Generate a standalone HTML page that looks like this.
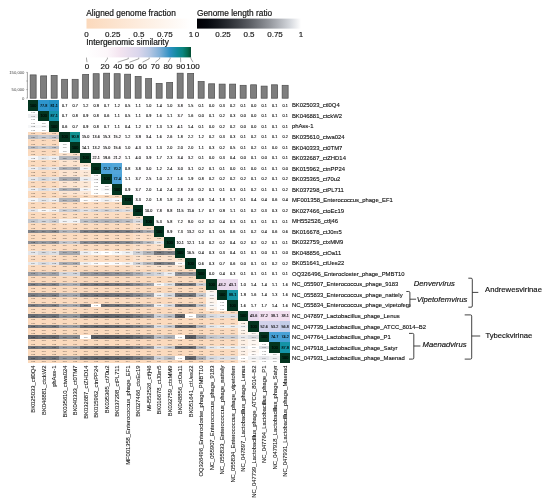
<!DOCTYPE html>
<html><head><meta charset="utf-8"><title>Intergenomic similarity heatmap</title>
<style>
html,body{margin:0;padding:0;background:#fff;width:550px;height:501px;overflow:hidden;}
svg{display:block;}
text{font-family:"Liberation Sans",Arial,sans-serif;}
</style></head><body>
<svg width="550" height="501" viewBox="0 0 550 501">
<rect x="0" y="0" width="550" height="501" fill="#fff"/>
<defs>
<linearGradient id="gAF" x1="0" x2="1" y1="0" y2="0"><stop offset="0" stop-color="#fbd9bc"/><stop offset="1" stop-color="#ffffff"/></linearGradient>
<linearGradient id="gGL" x1="0" x2="1" y1="0" y2="0"><stop offset="0.00" stop-color="#000005"/><stop offset="0.10" stop-color="#05080e"/><stop offset="0.20" stop-color="#15181e"/><stop offset="0.30" stop-color="#292c32"/><stop offset="0.40" stop-color="#404349"/><stop offset="0.50" stop-color="#595c62"/><stop offset="0.60" stop-color="#76797f"/><stop offset="0.70" stop-color="#94979d"/><stop offset="0.80" stop-color="#b5b8be"/><stop offset="0.90" stop-color="#d7dadf"/><stop offset="1.00" stop-color="#ffffff"/></linearGradient>
<linearGradient id="gIS" x1="0" x2="1" y1="0" y2="0"><stop offset="0.000" stop-color="#ffffff"/><stop offset="0.200" stop-color="#fcf6fa"/><stop offset="0.320" stop-color="#f3e4f0"/><stop offset="0.500" stop-color="#dad6ec"/><stop offset="0.600" stop-color="#b8c8e4"/><stop offset="0.700" stop-color="#80b0d8"/><stop offset="0.800" stop-color="#2c90c2"/><stop offset="0.870" stop-color="#108a9c"/><stop offset="0.920" stop-color="#0b8580"/><stop offset="0.970" stop-color="#056a4e"/><stop offset="1.000" stop-color="#024a32"/></linearGradient>
</defs>
<g fill="#111" stroke="#111" stroke-width="0.18"><text x="86.3" y="16.4" font-size="8.30">Aligned genome fraction</text><text x="197" y="16.4" font-size="8.30">Genome length ratio</text><text x="86.3" y="44.7" font-size="8.30">Intergenomic similarity</text></g>
<rect x="86.5" y="18.6" width="104.5" height="10" fill="url(#gAF)"/>
<rect x="197" y="18.6" width="104" height="10" fill="url(#gGL)"/>
<rect x="86.5" y="47" width="104.5" height="10.4" fill="url(#gIS)"/>
<g fill="#111" stroke="#111" stroke-width="0.15" font-size="8.00" text-anchor="middle"><text x="86.60" y="36.6">0</text><text x="112.70" y="36.6">0.25</text><text x="138.80" y="36.6">0.5</text><text x="164.90" y="36.6">0.75</text><text x="191.00" y="36.6">1</text><text x="197.00" y="36.6">0</text><text x="223.00" y="36.6">0.25</text><text x="249.00" y="36.6">0.5</text><text x="275.00" y="36.6">0.75</text><text x="301.00" y="36.6">1</text><text x="87.00" y="69">0</text><text x="105.00" y="69">20</text><text x="117.70" y="69">40</text><text x="129.50" y="69">50</text><text x="142.50" y="69">60</text><text x="155.30" y="69">70</text><text x="168.00" y="69">80</text><text x="180.70" y="69">90</text><text x="193.00" y="69">100</text></g>
<g stroke="#333" stroke-width="0.45" fill="none"><polyline points="86.50,57.6 86.50,58.8 87.00,62.2"/><polyline points="107.40,57.6 107.40,58.8 105.00,62.2"/><polyline points="128.30,57.6 128.30,58.8 117.70,62.2"/><polyline points="138.75,57.6 138.75,58.8 129.50,62.2"/><polyline points="149.20,57.6 149.20,58.8 142.50,62.2"/><polyline points="159.65,57.6 159.65,58.8 155.30,62.2"/><polyline points="170.10,57.6 170.10,58.8 168.00,62.2"/><polyline points="180.55,57.6 180.55,58.8 180.70,62.2"/><polyline points="191.00,57.6 191.00,58.8 193.00,62.2"/></g>
<g fill="#7e7e7e" stroke="#4c4c4c" stroke-width="0.7"><rect x="30.15" y="74.90" width="6.0" height="23.30"/><rect x="40.65" y="75.90" width="6.0" height="22.30"/><rect x="51.15" y="75.40" width="6.0" height="22.80"/><rect x="61.65" y="79.30" width="6.0" height="18.90"/><rect x="72.15" y="79.30" width="6.0" height="18.90"/><rect x="82.65" y="74.40" width="6.0" height="23.80"/><rect x="93.15" y="73.70" width="6.0" height="24.50"/><rect x="103.65" y="73.20" width="6.0" height="25.00"/><rect x="114.15" y="73.70" width="6.0" height="24.50"/><rect x="124.65" y="74.20" width="6.0" height="24.00"/><rect x="135.15" y="76.40" width="6.0" height="21.80"/><rect x="145.65" y="78.60" width="6.0" height="19.60"/><rect x="156.15" y="83.40" width="6.0" height="14.80"/><rect x="166.65" y="82.40" width="6.0" height="15.80"/><rect x="177.15" y="73.20" width="6.0" height="25.00"/><rect x="187.65" y="73.40" width="6.0" height="24.80"/><rect x="198.15" y="81.50" width="6.0" height="16.70"/><rect x="208.65" y="83.80" width="6.0" height="14.40"/><rect x="219.15" y="84.10" width="6.0" height="14.10"/><rect x="229.65" y="84.10" width="6.0" height="14.10"/><rect x="240.15" y="85.30" width="6.0" height="12.90"/><rect x="250.65" y="84.80" width="6.0" height="13.40"/><rect x="261.15" y="86.10" width="6.0" height="12.10"/><rect x="271.65" y="84.80" width="6.0" height="13.40"/><rect x="282.15" y="85.30" width="6.0" height="12.90"/></g>
<g stroke="#444" stroke-width="0.5"><line x1="27.4" y1="72.3" x2="27.4" y2="98.2"/><line x1="26.4" y1="72.40" x2="27.4" y2="72.40"/><line x1="26.4" y1="81.00" x2="27.4" y2="81.00"/><line x1="26.4" y1="89.60" x2="27.4" y2="89.60"/><line x1="26.4" y1="98.10" x2="27.4" y2="98.10"/></g>
<g fill="#444" font-size="4.2" text-anchor="end"><text x="24.4" y="73.7">150,000</text><text x="24.4" y="90.5">50,000</text><text x="24.4" y="100.0">0</text></g>
<g shape-rendering="crispEdges"><rect x="27.90" y="100.10" width="10.55" height="10.58" fill="#03341f"/><rect x="38.40" y="100.10" width="10.55" height="10.58" fill="#2e95cd"/><rect x="48.90" y="100.10" width="10.55" height="10.58" fill="#2290c5"/><rect x="59.40" y="100.10" width="10.55" height="10.58" fill="#ffffff"/><rect x="69.90" y="100.10" width="10.55" height="10.58" fill="#ffffff"/><rect x="80.40" y="100.10" width="10.55" height="10.58" fill="#ffffff"/><rect x="90.90" y="100.10" width="10.55" height="10.58" fill="#ffffff"/><rect x="101.40" y="100.10" width="10.55" height="10.58" fill="#ffffff"/><rect x="111.90" y="100.10" width="10.55" height="10.58" fill="#ffffff"/><rect x="122.40" y="100.10" width="10.55" height="10.58" fill="#ffffff"/><rect x="132.90" y="100.10" width="10.55" height="10.58" fill="#ffffff"/><rect x="143.40" y="100.10" width="10.55" height="10.58" fill="#ffffff"/><rect x="153.90" y="100.10" width="10.55" height="10.58" fill="#ffffff"/><rect x="164.40" y="100.10" width="10.55" height="10.58" fill="#ffffff"/><rect x="174.90" y="100.10" width="10.55" height="10.58" fill="#fffeff"/><rect x="185.40" y="100.10" width="10.55" height="10.58" fill="#ffffff"/><rect x="195.90" y="100.10" width="10.55" height="10.58" fill="#ffffff"/><rect x="206.40" y="100.10" width="10.55" height="10.58" fill="#ffffff"/><rect x="216.90" y="100.10" width="10.55" height="10.58" fill="#ffffff"/><rect x="227.40" y="100.10" width="10.55" height="10.58" fill="#ffffff"/><rect x="237.90" y="100.10" width="10.55" height="10.58" fill="#ffffff"/><rect x="248.40" y="100.10" width="10.55" height="10.58" fill="#ffffff"/><rect x="258.90" y="100.10" width="10.55" height="10.58" fill="#ffffff"/><rect x="269.40" y="100.10" width="10.55" height="10.58" fill="#ffffff"/><rect x="279.90" y="100.10" width="10.55" height="10.58" fill="#ffffff"/><rect x="27.90" y="110.63" width="10.55" height="3.56" fill="#ffffff"/><rect x="27.90" y="114.14" width="10.55" height="3.56" fill="#eeeff1"/><rect x="27.90" y="117.65" width="10.55" height="3.56" fill="#ffffff"/><rect x="38.40" y="110.63" width="10.55" height="10.58" fill="#03341f"/><rect x="48.90" y="110.63" width="10.55" height="10.58" fill="#1692aa"/><rect x="59.40" y="110.63" width="10.55" height="10.58" fill="#ffffff"/><rect x="69.90" y="110.63" width="10.55" height="10.58" fill="#ffffff"/><rect x="80.40" y="110.63" width="10.55" height="10.58" fill="#ffffff"/><rect x="90.90" y="110.63" width="10.55" height="10.58" fill="#ffffff"/><rect x="101.40" y="110.63" width="10.55" height="10.58" fill="#ffffff"/><rect x="111.90" y="110.63" width="10.55" height="10.58" fill="#ffffff"/><rect x="122.40" y="110.63" width="10.55" height="10.58" fill="#ffffff"/><rect x="132.90" y="110.63" width="10.55" height="10.58" fill="#ffffff"/><rect x="143.40" y="110.63" width="10.55" height="10.58" fill="#ffffff"/><rect x="153.90" y="110.63" width="10.55" height="10.58" fill="#ffffff"/><rect x="164.40" y="110.63" width="10.55" height="10.58" fill="#ffffff"/><rect x="174.90" y="110.63" width="10.55" height="10.58" fill="#fffeff"/><rect x="185.40" y="110.63" width="10.55" height="10.58" fill="#ffffff"/><rect x="195.90" y="110.63" width="10.55" height="10.58" fill="#ffffff"/><rect x="206.40" y="110.63" width="10.55" height="10.58" fill="#ffffff"/><rect x="216.90" y="110.63" width="10.55" height="10.58" fill="#ffffff"/><rect x="227.40" y="110.63" width="10.55" height="10.58" fill="#ffffff"/><rect x="237.90" y="110.63" width="10.55" height="10.58" fill="#ffffff"/><rect x="248.40" y="110.63" width="10.55" height="10.58" fill="#ffffff"/><rect x="258.90" y="110.63" width="10.55" height="10.58" fill="#ffffff"/><rect x="269.40" y="110.63" width="10.55" height="10.58" fill="#ffffff"/><rect x="279.90" y="110.63" width="10.55" height="10.58" fill="#ffffff"/><rect x="27.90" y="121.16" width="10.55" height="3.56" fill="#ffffff"/><rect x="27.90" y="124.67" width="10.55" height="3.56" fill="#f6f7f8"/><rect x="27.90" y="128.18" width="10.55" height="3.56" fill="#ffffff"/><rect x="38.40" y="121.16" width="10.55" height="3.56" fill="#ffffff"/><rect x="38.40" y="124.67" width="10.55" height="3.56" fill="#f6f7f8"/><rect x="38.40" y="128.18" width="10.55" height="3.56" fill="#ffffff"/><rect x="48.90" y="121.16" width="10.55" height="10.58" fill="#03341f"/><rect x="59.40" y="121.16" width="10.55" height="10.58" fill="#ffffff"/><rect x="69.90" y="121.16" width="10.55" height="10.58" fill="#ffffff"/><rect x="80.40" y="121.16" width="10.55" height="10.58" fill="#ffffff"/><rect x="90.90" y="121.16" width="10.55" height="10.58" fill="#ffffff"/><rect x="101.40" y="121.16" width="10.55" height="10.58" fill="#ffffff"/><rect x="111.90" y="121.16" width="10.55" height="10.58" fill="#ffffff"/><rect x="122.40" y="121.16" width="10.55" height="10.58" fill="#ffffff"/><rect x="132.90" y="121.16" width="10.55" height="10.58" fill="#ffffff"/><rect x="143.40" y="121.16" width="10.55" height="10.58" fill="#ffffff"/><rect x="153.90" y="121.16" width="10.55" height="10.58" fill="#ffffff"/><rect x="164.40" y="121.16" width="10.55" height="10.58" fill="#ffffff"/><rect x="174.90" y="121.16" width="10.55" height="10.58" fill="#fffeff"/><rect x="185.40" y="121.16" width="10.55" height="10.58" fill="#ffffff"/><rect x="195.90" y="121.16" width="10.55" height="10.58" fill="#ffffff"/><rect x="206.40" y="121.16" width="10.55" height="10.58" fill="#ffffff"/><rect x="216.90" y="121.16" width="10.55" height="10.58" fill="#ffffff"/><rect x="227.40" y="121.16" width="10.55" height="10.58" fill="#ffffff"/><rect x="237.90" y="121.16" width="10.55" height="10.58" fill="#ffffff"/><rect x="248.40" y="121.16" width="10.55" height="10.58" fill="#ffffff"/><rect x="258.90" y="121.16" width="10.55" height="10.58" fill="#ffffff"/><rect x="269.40" y="121.16" width="10.55" height="10.58" fill="#ffffff"/><rect x="279.90" y="121.16" width="10.55" height="10.58" fill="#ffffff"/><rect x="27.90" y="131.69" width="10.55" height="3.56" fill="#fbdabe"/><rect x="27.90" y="135.20" width="10.55" height="3.56" fill="#b9bcc2"/><rect x="27.90" y="138.71" width="10.55" height="3.56" fill="#fbdabe"/><rect x="38.40" y="131.69" width="10.55" height="3.56" fill="#fbdabe"/><rect x="38.40" y="135.20" width="10.55" height="3.56" fill="#c5c8ce"/><rect x="38.40" y="138.71" width="10.55" height="3.56" fill="#fbdabe"/><rect x="48.90" y="131.69" width="10.55" height="3.56" fill="#fbdabe"/><rect x="48.90" y="135.20" width="10.55" height="3.56" fill="#bfc2c8"/><rect x="48.90" y="138.71" width="10.55" height="3.56" fill="#fbdabe"/><rect x="59.40" y="131.69" width="10.55" height="10.58" fill="#03341f"/><rect x="69.90" y="131.69" width="10.55" height="10.58" fill="#109190"/><rect x="80.40" y="131.69" width="10.55" height="10.58" fill="#fefcfe"/><rect x="90.90" y="131.69" width="10.55" height="10.58" fill="#fefcfe"/><rect x="101.40" y="131.69" width="10.55" height="10.58" fill="#fefcfd"/><rect x="111.90" y="131.69" width="10.55" height="10.58" fill="#fefcfd"/><rect x="122.40" y="131.69" width="10.55" height="10.58" fill="#ffffff"/><rect x="132.90" y="131.69" width="10.55" height="10.58" fill="#fffeff"/><rect x="143.40" y="131.69" width="10.55" height="10.58" fill="#fffeff"/><rect x="153.90" y="131.69" width="10.55" height="10.58" fill="#ffffff"/><rect x="164.40" y="131.69" width="10.55" height="10.58" fill="#fffeff"/><rect x="174.90" y="131.69" width="10.55" height="10.58" fill="#ffffff"/><rect x="185.40" y="131.69" width="10.55" height="10.58" fill="#ffffff"/><rect x="195.90" y="131.69" width="10.55" height="10.58" fill="#ffffff"/><rect x="206.40" y="131.69" width="10.55" height="10.58" fill="#ffffff"/><rect x="216.90" y="131.69" width="10.55" height="10.58" fill="#ffffff"/><rect x="227.40" y="131.69" width="10.55" height="10.58" fill="#ffffff"/><rect x="237.90" y="131.69" width="10.55" height="10.58" fill="#ffffff"/><rect x="248.40" y="131.69" width="10.55" height="10.58" fill="#ffffff"/><rect x="258.90" y="131.69" width="10.55" height="10.58" fill="#ffffff"/><rect x="269.40" y="131.69" width="10.55" height="10.58" fill="#ffffff"/><rect x="279.90" y="131.69" width="10.55" height="10.58" fill="#ffffff"/><rect x="27.90" y="142.22" width="10.55" height="3.56" fill="#fbdabe"/><rect x="27.90" y="145.73" width="10.55" height="3.56" fill="#b9bcc2"/><rect x="27.90" y="149.24" width="10.55" height="3.56" fill="#fbdabe"/><rect x="38.40" y="142.22" width="10.55" height="3.56" fill="#fbdbbf"/><rect x="38.40" y="145.73" width="10.55" height="3.56" fill="#c5c8ce"/><rect x="38.40" y="149.24" width="10.55" height="3.56" fill="#fbdabf"/><rect x="48.90" y="142.22" width="10.55" height="3.56" fill="#fbdabe"/><rect x="48.90" y="145.73" width="10.55" height="3.56" fill="#bfc2c8"/><rect x="48.90" y="149.24" width="10.55" height="3.56" fill="#fbdabe"/><rect x="59.40" y="142.22" width="10.55" height="3.56" fill="#ffffff"/><rect x="59.40" y="145.73" width="10.55" height="3.56" fill="#ffffff"/><rect x="59.40" y="149.24" width="10.55" height="3.56" fill="#ffffff"/><rect x="69.90" y="142.22" width="10.55" height="10.58" fill="#03341f"/><rect x="80.40" y="142.22" width="10.55" height="10.58" fill="#fefcfe"/><rect x="90.90" y="142.22" width="10.55" height="10.58" fill="#fefcfe"/><rect x="101.40" y="142.22" width="10.55" height="10.58" fill="#fefcfe"/><rect x="111.90" y="142.22" width="10.55" height="10.58" fill="#fefcfd"/><rect x="122.40" y="142.22" width="10.55" height="10.58" fill="#ffffff"/><rect x="132.90" y="142.22" width="10.55" height="10.58" fill="#fffeff"/><rect x="143.40" y="142.22" width="10.55" height="10.58" fill="#fffeff"/><rect x="153.90" y="142.22" width="10.55" height="10.58" fill="#ffffff"/><rect x="164.40" y="142.22" width="10.55" height="10.58" fill="#ffffff"/><rect x="174.90" y="142.22" width="10.55" height="10.58" fill="#ffffff"/><rect x="185.40" y="142.22" width="10.55" height="10.58" fill="#ffffff"/><rect x="195.90" y="142.22" width="10.55" height="10.58" fill="#ffffff"/><rect x="206.40" y="142.22" width="10.55" height="10.58" fill="#ffffff"/><rect x="216.90" y="142.22" width="10.55" height="10.58" fill="#ffffff"/><rect x="227.40" y="142.22" width="10.55" height="10.58" fill="#ffffff"/><rect x="237.90" y="142.22" width="10.55" height="10.58" fill="#ffffff"/><rect x="248.40" y="142.22" width="10.55" height="10.58" fill="#ffffff"/><rect x="258.90" y="142.22" width="10.55" height="10.58" fill="#ffffff"/><rect x="269.40" y="142.22" width="10.55" height="10.58" fill="#ffffff"/><rect x="279.90" y="142.22" width="10.55" height="10.58" fill="#ffffff"/><rect x="27.90" y="152.75" width="10.55" height="3.56" fill="#fbdbbf"/><rect x="27.90" y="156.26" width="10.55" height="3.56" fill="#f7f7f8"/><rect x="27.90" y="159.77" width="10.55" height="3.56" fill="#fbdbbf"/><rect x="38.40" y="152.75" width="10.55" height="3.56" fill="#fbdbbf"/><rect x="38.40" y="156.26" width="10.55" height="3.56" fill="#e6e8eb"/><rect x="38.40" y="159.77" width="10.55" height="3.56" fill="#fbdbbf"/><rect x="48.90" y="152.75" width="10.55" height="3.56" fill="#fbdbbf"/><rect x="48.90" y="156.26" width="10.55" height="3.56" fill="#eeeff2"/><rect x="48.90" y="159.77" width="10.55" height="3.56" fill="#fbdbbf"/><rect x="59.40" y="152.75" width="10.55" height="3.56" fill="#fce4d0"/><rect x="59.40" y="156.26" width="10.55" height="3.56" fill="#b3b6bc"/><rect x="59.40" y="159.77" width="10.55" height="3.56" fill="#fce5d1"/><rect x="69.90" y="152.75" width="10.55" height="3.56" fill="#fce4cf"/><rect x="69.90" y="156.26" width="10.55" height="3.56" fill="#b3b6bc"/><rect x="69.90" y="159.77" width="10.55" height="3.56" fill="#fce5d0"/><rect x="80.40" y="152.75" width="10.55" height="10.58" fill="#03341f"/><rect x="90.90" y="152.75" width="10.55" height="10.58" fill="#fdf8fb"/><rect x="101.40" y="152.75" width="10.55" height="10.58" fill="#fefbfd"/><rect x="111.90" y="152.75" width="10.55" height="10.58" fill="#fdf9fc"/><rect x="122.40" y="152.75" width="10.55" height="10.58" fill="#ffffff"/><rect x="132.90" y="152.75" width="10.55" height="10.58" fill="#fffeff"/><rect x="143.40" y="152.75" width="10.55" height="10.58" fill="#fffeff"/><rect x="153.90" y="152.75" width="10.55" height="10.58" fill="#ffffff"/><rect x="164.40" y="152.75" width="10.55" height="10.58" fill="#ffffff"/><rect x="174.90" y="152.75" width="10.55" height="10.58" fill="#fffeff"/><rect x="185.40" y="152.75" width="10.55" height="10.58" fill="#fffeff"/><rect x="195.90" y="152.75" width="10.55" height="10.58" fill="#ffffff"/><rect x="206.40" y="152.75" width="10.55" height="10.58" fill="#ffffff"/><rect x="216.90" y="152.75" width="10.55" height="10.58" fill="#ffffff"/><rect x="227.40" y="152.75" width="10.55" height="10.58" fill="#ffffff"/><rect x="237.90" y="152.75" width="10.55" height="10.58" fill="#ffffff"/><rect x="248.40" y="152.75" width="10.55" height="10.58" fill="#ffffff"/><rect x="258.90" y="152.75" width="10.55" height="10.58" fill="#ffffff"/><rect x="269.40" y="152.75" width="10.55" height="10.58" fill="#ffffff"/><rect x="279.90" y="152.75" width="10.55" height="10.58" fill="#ffffff"/><rect x="27.90" y="163.28" width="10.55" height="3.56" fill="#fbdbbf"/><rect x="27.90" y="166.79" width="10.55" height="3.56" fill="#ecedf0"/><rect x="27.90" y="170.30" width="10.55" height="3.56" fill="#fbdbbf"/><rect x="38.40" y="163.28" width="10.55" height="3.56" fill="#fbdabf"/><rect x="38.40" y="166.79" width="10.55" height="3.56" fill="#dcdee3"/><rect x="38.40" y="170.30" width="10.55" height="3.56" fill="#fbdbbf"/><rect x="48.90" y="163.28" width="10.55" height="3.56" fill="#fbdabf"/><rect x="48.90" y="166.79" width="10.55" height="3.56" fill="#e4e5e9"/><rect x="48.90" y="170.30" width="10.55" height="3.56" fill="#fbdbbf"/><rect x="59.40" y="163.28" width="10.55" height="3.56" fill="#fce3ce"/><rect x="59.40" y="166.79" width="10.55" height="3.56" fill="#acafb5"/><rect x="59.40" y="170.30" width="10.55" height="3.56" fill="#fce4d0"/><rect x="69.90" y="163.28" width="10.55" height="3.56" fill="#fce3ce"/><rect x="69.90" y="166.79" width="10.55" height="3.56" fill="#acafb5"/><rect x="69.90" y="170.30" width="10.55" height="3.56" fill="#fce4cf"/><rect x="80.40" y="163.28" width="10.55" height="3.56" fill="#fde8d7"/><rect x="80.40" y="166.79" width="10.55" height="3.56" fill="#f4f4f6"/><rect x="80.40" y="170.30" width="10.55" height="3.56" fill="#fde9d9"/><rect x="90.90" y="163.28" width="10.55" height="10.58" fill="#03341f"/><rect x="101.40" y="163.28" width="10.55" height="10.58" fill="#4da3d8"/><rect x="111.90" y="163.28" width="10.55" height="10.58" fill="#52a6d9"/><rect x="122.40" y="163.28" width="10.55" height="10.58" fill="#ffffff"/><rect x="132.90" y="163.28" width="10.55" height="10.58" fill="#fffeff"/><rect x="143.40" y="163.28" width="10.55" height="10.58" fill="#fffeff"/><rect x="153.90" y="163.28" width="10.55" height="10.58" fill="#ffffff"/><rect x="164.40" y="163.28" width="10.55" height="10.58" fill="#ffffff"/><rect x="174.90" y="163.28" width="10.55" height="10.58" fill="#fffeff"/><rect x="185.40" y="163.28" width="10.55" height="10.58" fill="#fffeff"/><rect x="195.90" y="163.28" width="10.55" height="10.58" fill="#ffffff"/><rect x="206.40" y="163.28" width="10.55" height="10.58" fill="#ffffff"/><rect x="216.90" y="163.28" width="10.55" height="10.58" fill="#ffffff"/><rect x="227.40" y="163.28" width="10.55" height="10.58" fill="#ffffff"/><rect x="237.90" y="163.28" width="10.55" height="10.58" fill="#ffffff"/><rect x="248.40" y="163.28" width="10.55" height="10.58" fill="#ffffff"/><rect x="258.90" y="163.28" width="10.55" height="10.58" fill="#ffffff"/><rect x="269.40" y="163.28" width="10.55" height="10.58" fill="#ffffff"/><rect x="279.90" y="163.28" width="10.55" height="10.58" fill="#ffffff"/><rect x="27.90" y="173.81" width="10.55" height="3.56" fill="#fbdabe"/><rect x="27.90" y="177.32" width="10.55" height="3.56" fill="#e4e6ea"/><rect x="27.90" y="180.83" width="10.55" height="3.56" fill="#fbdabe"/><rect x="38.40" y="173.81" width="10.55" height="3.56" fill="#fbdabe"/><rect x="38.40" y="177.32" width="10.55" height="3.56" fill="#d5d8dd"/><rect x="38.40" y="180.83" width="10.55" height="3.56" fill="#fbdabe"/><rect x="48.90" y="173.81" width="10.55" height="3.56" fill="#fbdabe"/><rect x="48.90" y="177.32" width="10.55" height="3.56" fill="#dcdfe3"/><rect x="48.90" y="180.83" width="10.55" height="3.56" fill="#fbdabe"/><rect x="59.40" y="173.81" width="10.55" height="3.56" fill="#fce4d0"/><rect x="59.40" y="177.32" width="10.55" height="3.56" fill="#a7aab0"/><rect x="59.40" y="180.83" width="10.55" height="3.56" fill="#fce5d2"/><rect x="69.90" y="173.81" width="10.55" height="3.56" fill="#fce4d0"/><rect x="69.90" y="177.32" width="10.55" height="3.56" fill="#a7aab0"/><rect x="69.90" y="180.83" width="10.55" height="3.56" fill="#fce5d1"/><rect x="80.40" y="173.81" width="10.55" height="3.56" fill="#fce7d4"/><rect x="80.40" y="177.32" width="10.55" height="3.56" fill="#ecedf0"/><rect x="80.40" y="180.83" width="10.55" height="3.56" fill="#fde8d6"/><rect x="90.90" y="173.81" width="10.55" height="3.56" fill="#ffffff"/><rect x="90.90" y="177.32" width="10.55" height="3.56" fill="#f7f8f9"/><rect x="90.90" y="180.83" width="10.55" height="3.56" fill="#ffffff"/><rect x="101.40" y="173.81" width="10.55" height="10.58" fill="#03341f"/><rect x="111.90" y="173.81" width="10.55" height="10.58" fill="#4ca3d8"/><rect x="122.40" y="173.81" width="10.55" height="10.58" fill="#ffffff"/><rect x="132.90" y="173.81" width="10.55" height="10.58" fill="#fffeff"/><rect x="143.40" y="173.81" width="10.55" height="10.58" fill="#fffeff"/><rect x="153.90" y="173.81" width="10.55" height="10.58" fill="#ffffff"/><rect x="164.40" y="173.81" width="10.55" height="10.58" fill="#fffeff"/><rect x="174.90" y="173.81" width="10.55" height="10.58" fill="#ffffff"/><rect x="185.40" y="173.81" width="10.55" height="10.58" fill="#ffffff"/><rect x="195.90" y="173.81" width="10.55" height="10.58" fill="#ffffff"/><rect x="206.40" y="173.81" width="10.55" height="10.58" fill="#ffffff"/><rect x="216.90" y="173.81" width="10.55" height="10.58" fill="#ffffff"/><rect x="227.40" y="173.81" width="10.55" height="10.58" fill="#ffffff"/><rect x="237.90" y="173.81" width="10.55" height="10.58" fill="#ffffff"/><rect x="248.40" y="173.81" width="10.55" height="10.58" fill="#ffffff"/><rect x="258.90" y="173.81" width="10.55" height="10.58" fill="#ffffff"/><rect x="269.40" y="173.81" width="10.55" height="10.58" fill="#ffffff"/><rect x="279.90" y="173.81" width="10.55" height="10.58" fill="#ffffff"/><rect x="27.90" y="184.34" width="10.55" height="3.56" fill="#fbdbbf"/><rect x="27.90" y="187.85" width="10.55" height="3.56" fill="#ecedf0"/><rect x="27.90" y="191.36" width="10.55" height="3.56" fill="#fbdbbf"/><rect x="38.40" y="184.34" width="10.55" height="3.56" fill="#fbdbbf"/><rect x="38.40" y="187.85" width="10.55" height="3.56" fill="#dcdee3"/><rect x="38.40" y="191.36" width="10.55" height="3.56" fill="#fbdbbf"/><rect x="48.90" y="184.34" width="10.55" height="3.56" fill="#fbdbbf"/><rect x="48.90" y="187.85" width="10.55" height="3.56" fill="#e4e5e9"/><rect x="48.90" y="191.36" width="10.55" height="3.56" fill="#fbdbbf"/><rect x="59.40" y="184.34" width="10.55" height="3.56" fill="#fce4d0"/><rect x="59.40" y="187.85" width="10.55" height="3.56" fill="#acafb5"/><rect x="59.40" y="191.36" width="10.55" height="3.56" fill="#fce5d2"/><rect x="69.90" y="184.34" width="10.55" height="3.56" fill="#fce5d0"/><rect x="69.90" y="187.85" width="10.55" height="3.56" fill="#acafb5"/><rect x="69.90" y="191.36" width="10.55" height="3.56" fill="#fce5d2"/><rect x="80.40" y="184.34" width="10.55" height="3.56" fill="#fde8d6"/><rect x="80.40" y="187.85" width="10.55" height="3.56" fill="#f4f4f6"/><rect x="80.40" y="191.36" width="10.55" height="3.56" fill="#fde9d8"/><rect x="90.90" y="184.34" width="10.55" height="3.56" fill="#fffffe"/><rect x="90.90" y="187.85" width="10.55" height="3.56" fill="#ffffff"/><rect x="90.90" y="191.36" width="10.55" height="3.56" fill="#fffffe"/><rect x="101.40" y="184.34" width="10.55" height="3.56" fill="#ffffff"/><rect x="101.40" y="187.85" width="10.55" height="3.56" fill="#f7f8f9"/><rect x="101.40" y="191.36" width="10.55" height="3.56" fill="#ffffff"/><rect x="111.90" y="184.34" width="10.55" height="10.58" fill="#03341f"/><rect x="122.40" y="184.34" width="10.55" height="10.58" fill="#ffffff"/><rect x="132.90" y="184.34" width="10.55" height="10.58" fill="#fffeff"/><rect x="143.40" y="184.34" width="10.55" height="10.58" fill="#ffffff"/><rect x="153.90" y="184.34" width="10.55" height="10.58" fill="#ffffff"/><rect x="164.40" y="184.34" width="10.55" height="10.58" fill="#ffffff"/><rect x="174.90" y="184.34" width="10.55" height="10.58" fill="#fffeff"/><rect x="185.40" y="184.34" width="10.55" height="10.58" fill="#fffeff"/><rect x="195.90" y="184.34" width="10.55" height="10.58" fill="#ffffff"/><rect x="206.40" y="184.34" width="10.55" height="10.58" fill="#ffffff"/><rect x="216.90" y="184.34" width="10.55" height="10.58" fill="#ffffff"/><rect x="227.40" y="184.34" width="10.55" height="10.58" fill="#ffffff"/><rect x="237.90" y="184.34" width="10.55" height="10.58" fill="#ffffff"/><rect x="248.40" y="184.34" width="10.55" height="10.58" fill="#ffffff"/><rect x="258.90" y="184.34" width="10.55" height="10.58" fill="#ffffff"/><rect x="269.40" y="184.34" width="10.55" height="10.58" fill="#ffffff"/><rect x="279.90" y="184.34" width="10.55" height="10.58" fill="#ffffff"/><rect x="27.90" y="194.87" width="10.55" height="3.56" fill="#fbdabe"/><rect x="27.90" y="198.38" width="10.55" height="3.56" fill="#f3f4f6"/><rect x="27.90" y="201.89" width="10.55" height="3.56" fill="#fbdabe"/><rect x="38.40" y="194.87" width="10.55" height="3.56" fill="#fbdabe"/><rect x="38.40" y="198.38" width="10.55" height="3.56" fill="#e3e5e9"/><rect x="38.40" y="201.89" width="10.55" height="3.56" fill="#fbdabe"/><rect x="48.90" y="194.87" width="10.55" height="3.56" fill="#fbdabe"/><rect x="48.90" y="198.38" width="10.55" height="3.56" fill="#ebecef"/><rect x="48.90" y="201.89" width="10.55" height="3.56" fill="#fbdabe"/><rect x="59.40" y="194.87" width="10.55" height="3.56" fill="#fbdbbf"/><rect x="59.40" y="198.38" width="10.55" height="3.56" fill="#b1b4ba"/><rect x="59.40" y="201.89" width="10.55" height="3.56" fill="#fbdbbf"/><rect x="69.90" y="194.87" width="10.55" height="3.56" fill="#fbdbbf"/><rect x="69.90" y="198.38" width="10.55" height="3.56" fill="#b1b4ba"/><rect x="69.90" y="201.89" width="10.55" height="3.56" fill="#fbdbbf"/><rect x="80.40" y="194.87" width="10.55" height="3.56" fill="#fbdbbf"/><rect x="80.40" y="198.38" width="10.55" height="3.56" fill="#fcfcfc"/><rect x="80.40" y="201.89" width="10.55" height="3.56" fill="#fbdbbf"/><rect x="90.90" y="194.87" width="10.55" height="3.56" fill="#fbdbbf"/><rect x="90.90" y="198.38" width="10.55" height="3.56" fill="#f7f7f9"/><rect x="90.90" y="201.89" width="10.55" height="3.56" fill="#fbdabf"/><rect x="101.40" y="194.87" width="10.55" height="3.56" fill="#fbdbbf"/><rect x="101.40" y="198.38" width="10.55" height="3.56" fill="#eff0f2"/><rect x="101.40" y="201.89" width="10.55" height="3.56" fill="#fbdbbf"/><rect x="111.90" y="194.87" width="10.55" height="3.56" fill="#fbdbbf"/><rect x="111.90" y="198.38" width="10.55" height="3.56" fill="#f7f7f9"/><rect x="111.90" y="201.89" width="10.55" height="3.56" fill="#fbdbbf"/><rect x="122.40" y="194.87" width="10.55" height="10.58" fill="#03341f"/><rect x="132.90" y="194.87" width="10.55" height="10.58" fill="#fffeff"/><rect x="143.40" y="194.87" width="10.55" height="10.58" fill="#ffffff"/><rect x="153.90" y="194.87" width="10.55" height="10.58" fill="#ffffff"/><rect x="164.40" y="194.87" width="10.55" height="10.58" fill="#ffffff"/><rect x="174.90" y="194.87" width="10.55" height="10.58" fill="#fffeff"/><rect x="185.40" y="194.87" width="10.55" height="10.58" fill="#fffeff"/><rect x="195.90" y="194.87" width="10.55" height="10.58" fill="#ffffff"/><rect x="206.40" y="194.87" width="10.55" height="10.58" fill="#ffffff"/><rect x="216.90" y="194.87" width="10.55" height="10.58" fill="#ffffff"/><rect x="227.40" y="194.87" width="10.55" height="10.58" fill="#ffffff"/><rect x="237.90" y="194.87" width="10.55" height="10.58" fill="#ffffff"/><rect x="248.40" y="194.87" width="10.55" height="10.58" fill="#ffffff"/><rect x="258.90" y="194.87" width="10.55" height="10.58" fill="#ffffff"/><rect x="269.40" y="194.87" width="10.55" height="10.58" fill="#ffffff"/><rect x="279.90" y="194.87" width="10.55" height="10.58" fill="#ffffff"/><rect x="27.90" y="205.40" width="10.55" height="3.56" fill="#fbdbbf"/><rect x="27.90" y="208.91" width="10.55" height="3.56" fill="#e6e7eb"/><rect x="27.90" y="212.42" width="10.55" height="3.56" fill="#fbdbbf"/><rect x="38.40" y="205.40" width="10.55" height="3.56" fill="#fbdbbf"/><rect x="38.40" y="208.91" width="10.55" height="3.56" fill="#f6f7f8"/><rect x="38.40" y="212.42" width="10.55" height="3.56" fill="#fbdbbf"/><rect x="48.90" y="205.40" width="10.55" height="3.56" fill="#fbdbbf"/><rect x="48.90" y="208.91" width="10.55" height="3.56" fill="#eeeff1"/><rect x="48.90" y="212.42" width="10.55" height="3.56" fill="#fbdbbf"/><rect x="59.40" y="205.40" width="10.55" height="3.56" fill="#fbddc3"/><rect x="59.40" y="208.91" width="10.55" height="3.56" fill="#cccfd5"/><rect x="59.40" y="212.42" width="10.55" height="3.56" fill="#fbddc4"/><rect x="69.90" y="205.40" width="10.55" height="3.56" fill="#fbddc4"/><rect x="69.90" y="208.91" width="10.55" height="3.56" fill="#cccfd5"/><rect x="69.90" y="212.42" width="10.55" height="3.56" fill="#fbdec4"/><rect x="80.40" y="205.40" width="10.55" height="3.56" fill="#fbddc4"/><rect x="80.40" y="208.91" width="10.55" height="3.56" fill="#dee0e5"/><rect x="80.40" y="212.42" width="10.55" height="3.56" fill="#fbddc3"/><rect x="90.90" y="205.40" width="10.55" height="3.56" fill="#fbddc4"/><rect x="90.90" y="208.91" width="10.55" height="3.56" fill="#d4d7dd"/><rect x="90.90" y="212.42" width="10.55" height="3.56" fill="#fbddc3"/><rect x="101.40" y="205.40" width="10.55" height="3.56" fill="#fbddc3"/><rect x="101.40" y="208.91" width="10.55" height="3.56" fill="#ced1d7"/><rect x="101.40" y="212.42" width="10.55" height="3.56" fill="#fbddc3"/><rect x="111.90" y="205.40" width="10.55" height="3.56" fill="#fbddc3"/><rect x="111.90" y="208.91" width="10.55" height="3.56" fill="#d4d7dd"/><rect x="111.90" y="212.42" width="10.55" height="3.56" fill="#fbddc3"/><rect x="122.40" y="205.40" width="10.55" height="3.56" fill="#fbddc3"/><rect x="122.40" y="208.91" width="10.55" height="3.56" fill="#dbdde2"/><rect x="122.40" y="212.42" width="10.55" height="3.56" fill="#fbddc2"/><rect x="132.90" y="205.40" width="10.55" height="10.58" fill="#03341f"/><rect x="143.40" y="205.40" width="10.55" height="10.58" fill="#fefdfe"/><rect x="153.90" y="205.40" width="10.55" height="10.58" fill="#fffdfe"/><rect x="164.40" y="205.40" width="10.55" height="10.58" fill="#fffdfe"/><rect x="174.90" y="205.40" width="10.55" height="10.58" fill="#fefdfe"/><rect x="185.40" y="205.40" width="10.55" height="10.58" fill="#fefdfe"/><rect x="195.90" y="205.40" width="10.55" height="10.58" fill="#ffffff"/><rect x="206.40" y="205.40" width="10.55" height="10.58" fill="#ffffff"/><rect x="216.90" y="205.40" width="10.55" height="10.58" fill="#ffffff"/><rect x="227.40" y="205.40" width="10.55" height="10.58" fill="#ffffff"/><rect x="237.90" y="205.40" width="10.55" height="10.58" fill="#ffffff"/><rect x="248.40" y="205.40" width="10.55" height="10.58" fill="#ffffff"/><rect x="258.90" y="205.40" width="10.55" height="10.58" fill="#ffffff"/><rect x="269.40" y="205.40" width="10.55" height="10.58" fill="#ffffff"/><rect x="279.90" y="205.40" width="10.55" height="10.58" fill="#ffffff"/><rect x="27.90" y="215.93" width="10.55" height="3.56" fill="#fbdbbf"/><rect x="27.90" y="219.44" width="10.55" height="3.56" fill="#c3c6cc"/><rect x="27.90" y="222.95" width="10.55" height="3.56" fill="#fbdbbf"/><rect x="38.40" y="215.93" width="10.55" height="3.56" fill="#fbdbbf"/><rect x="38.40" y="219.44" width="10.55" height="3.56" fill="#d0d3d9"/><rect x="38.40" y="222.95" width="10.55" height="3.56" fill="#fbdbbf"/><rect x="48.90" y="215.93" width="10.55" height="3.56" fill="#fbdabe"/><rect x="48.90" y="219.44" width="10.55" height="3.56" fill="#c9ccd2"/><rect x="48.90" y="222.95" width="10.55" height="3.56" fill="#fbdabe"/><rect x="59.40" y="215.93" width="10.55" height="3.56" fill="#fbddc2"/><rect x="59.40" y="219.44" width="10.55" height="3.56" fill="#f1f2f4"/><rect x="59.40" y="222.95" width="10.55" height="3.56" fill="#fbddc3"/><rect x="69.90" y="215.93" width="10.55" height="3.56" fill="#fbddc2"/><rect x="69.90" y="219.44" width="10.55" height="3.56" fill="#f1f2f4"/><rect x="69.90" y="222.95" width="10.55" height="3.56" fill="#fbddc3"/><rect x="80.40" y="215.93" width="10.55" height="3.56" fill="#fbddc4"/><rect x="80.40" y="219.44" width="10.55" height="3.56" fill="#bdc0c6"/><rect x="80.40" y="222.95" width="10.55" height="3.56" fill="#fbddc3"/><rect x="90.90" y="215.93" width="10.55" height="3.56" fill="#fbddc2"/><rect x="90.90" y="219.44" width="10.55" height="3.56" fill="#b5b8be"/><rect x="90.90" y="222.95" width="10.55" height="3.56" fill="#fbdcc2"/><rect x="101.40" y="215.93" width="10.55" height="3.56" fill="#fbdcc2"/><rect x="101.40" y="219.44" width="10.55" height="3.56" fill="#b0b3b9"/><rect x="101.40" y="222.95" width="10.55" height="3.56" fill="#fbdcc1"/><rect x="111.90" y="215.93" width="10.55" height="3.56" fill="#fbdcc1"/><rect x="111.90" y="219.44" width="10.55" height="3.56" fill="#b5b8be"/><rect x="111.90" y="222.95" width="10.55" height="3.56" fill="#fbdcc0"/><rect x="122.40" y="215.93" width="10.55" height="3.56" fill="#fbdcc1"/><rect x="122.40" y="219.44" width="10.55" height="3.56" fill="#bbbec4"/><rect x="122.40" y="222.95" width="10.55" height="3.56" fill="#fbdcc0"/><rect x="132.90" y="215.93" width="10.55" height="3.56" fill="#fce2cc"/><rect x="132.90" y="219.44" width="10.55" height="3.56" fill="#d7dae0"/><rect x="132.90" y="222.95" width="10.55" height="3.56" fill="#fce1ca"/><rect x="143.40" y="215.93" width="10.55" height="10.58" fill="#03341f"/><rect x="153.90" y="215.93" width="10.55" height="10.58" fill="#fffefe"/><rect x="164.40" y="215.93" width="10.55" height="10.58" fill="#fffefe"/><rect x="174.90" y="215.93" width="10.55" height="10.58" fill="#fffefe"/><rect x="185.40" y="215.93" width="10.55" height="10.58" fill="#fffdfe"/><rect x="195.90" y="215.93" width="10.55" height="10.58" fill="#ffffff"/><rect x="206.40" y="215.93" width="10.55" height="10.58" fill="#ffffff"/><rect x="216.90" y="215.93" width="10.55" height="10.58" fill="#ffffff"/><rect x="227.40" y="215.93" width="10.55" height="10.58" fill="#ffffff"/><rect x="237.90" y="215.93" width="10.55" height="10.58" fill="#ffffff"/><rect x="248.40" y="215.93" width="10.55" height="10.58" fill="#ffffff"/><rect x="258.90" y="215.93" width="10.55" height="10.58" fill="#ffffff"/><rect x="269.40" y="215.93" width="10.55" height="10.58" fill="#ffffff"/><rect x="279.90" y="215.93" width="10.55" height="10.58" fill="#ffffff"/><rect x="27.90" y="226.46" width="10.55" height="3.56" fill="#fbdbc0"/><rect x="27.90" y="229.97" width="10.55" height="3.56" fill="#81848a"/><rect x="27.90" y="233.48" width="10.55" height="3.56" fill="#fbdbc0"/><rect x="38.40" y="226.46" width="10.55" height="3.56" fill="#fbdbc0"/><rect x="38.40" y="229.97" width="10.55" height="3.56" fill="#8a8d93"/><rect x="38.40" y="233.48" width="10.55" height="3.56" fill="#fbdbc0"/><rect x="48.90" y="226.46" width="10.55" height="3.56" fill="#fbdbc0"/><rect x="48.90" y="229.97" width="10.55" height="3.56" fill="#86898f"/><rect x="48.90" y="233.48" width="10.55" height="3.56" fill="#fbdbbf"/><rect x="59.40" y="226.46" width="10.55" height="3.56" fill="#fbdbc0"/><rect x="59.40" y="229.97" width="10.55" height="3.56" fill="#b0b3b9"/><rect x="59.40" y="233.48" width="10.55" height="3.56" fill="#fbdbc0"/><rect x="69.90" y="226.46" width="10.55" height="3.56" fill="#fbdbc0"/><rect x="69.90" y="229.97" width="10.55" height="3.56" fill="#b0b3b9"/><rect x="69.90" y="233.48" width="10.55" height="3.56" fill="#fbdbbf"/><rect x="80.40" y="226.46" width="10.55" height="3.56" fill="#fbdbc0"/><rect x="80.40" y="229.97" width="10.55" height="3.56" fill="#7d8086"/><rect x="80.40" y="233.48" width="10.55" height="3.56" fill="#fbdbc0"/><rect x="90.90" y="226.46" width="10.55" height="3.56" fill="#fbdbbf"/><rect x="90.90" y="229.97" width="10.55" height="3.56" fill="#787b81"/><rect x="90.90" y="233.48" width="10.55" height="3.56" fill="#fbdbbf"/><rect x="101.40" y="226.46" width="10.55" height="3.56" fill="#fbdbbf"/><rect x="101.40" y="229.97" width="10.55" height="3.56" fill="#75787e"/><rect x="101.40" y="233.48" width="10.55" height="3.56" fill="#fbdbbf"/><rect x="111.90" y="226.46" width="10.55" height="3.56" fill="#fbdbc0"/><rect x="111.90" y="229.97" width="10.55" height="3.56" fill="#787b81"/><rect x="111.90" y="233.48" width="10.55" height="3.56" fill="#fbdbc0"/><rect x="122.40" y="226.46" width="10.55" height="3.56" fill="#fbdcc0"/><rect x="122.40" y="229.97" width="10.55" height="3.56" fill="#7c7f85"/><rect x="122.40" y="233.48" width="10.55" height="3.56" fill="#fbdbc0"/><rect x="132.90" y="226.46" width="10.55" height="3.56" fill="#fce0c9"/><rect x="132.90" y="229.97" width="10.55" height="3.56" fill="#8f9298"/><rect x="132.90" y="233.48" width="10.55" height="3.56" fill="#fce0c8"/><rect x="143.40" y="226.46" width="10.55" height="3.56" fill="#fcdec6"/><rect x="143.40" y="229.97" width="10.55" height="3.56" fill="#a7aab0"/><rect x="143.40" y="233.48" width="10.55" height="3.56" fill="#fcdec5"/><rect x="153.90" y="226.46" width="10.55" height="10.58" fill="#03341f"/><rect x="164.40" y="226.46" width="10.55" height="10.58" fill="#fffdfe"/><rect x="174.90" y="226.46" width="10.55" height="10.58" fill="#fffefe"/><rect x="185.40" y="226.46" width="10.55" height="10.58" fill="#fefcfe"/><rect x="195.90" y="226.46" width="10.55" height="10.58" fill="#ffffff"/><rect x="206.40" y="226.46" width="10.55" height="10.58" fill="#ffffff"/><rect x="216.90" y="226.46" width="10.55" height="10.58" fill="#ffffff"/><rect x="227.40" y="226.46" width="10.55" height="10.58" fill="#ffffff"/><rect x="237.90" y="226.46" width="10.55" height="10.58" fill="#ffffff"/><rect x="248.40" y="226.46" width="10.55" height="10.58" fill="#ffffff"/><rect x="258.90" y="226.46" width="10.55" height="10.58" fill="#ffffff"/><rect x="269.40" y="226.46" width="10.55" height="10.58" fill="#ffffff"/><rect x="279.90" y="226.46" width="10.55" height="10.58" fill="#ffffff"/><rect x="27.90" y="236.99" width="10.55" height="3.56" fill="#fbdbbf"/><rect x="27.90" y="240.50" width="10.55" height="3.56" fill="#8e9197"/><rect x="27.90" y="244.01" width="10.55" height="3.56" fill="#fbdbbf"/><rect x="38.40" y="236.99" width="10.55" height="3.56" fill="#fbdbbf"/><rect x="38.40" y="240.50" width="10.55" height="3.56" fill="#989ba1"/><rect x="38.40" y="244.01" width="10.55" height="3.56" fill="#fbdbbf"/><rect x="48.90" y="236.99" width="10.55" height="3.56" fill="#fbdbc0"/><rect x="48.90" y="240.50" width="10.55" height="3.56" fill="#93969c"/><rect x="48.90" y="244.01" width="10.55" height="3.56" fill="#fbdbbf"/><rect x="59.40" y="236.99" width="10.55" height="3.56" fill="#fbdcc2"/><rect x="59.40" y="240.50" width="10.55" height="3.56" fill="#c2c5cb"/><rect x="59.40" y="244.01" width="10.55" height="3.56" fill="#fbdcc1"/><rect x="69.90" y="236.99" width="10.55" height="3.56" fill="#fbdcc1"/><rect x="69.90" y="240.50" width="10.55" height="3.56" fill="#c2c5cb"/><rect x="69.90" y="244.01" width="10.55" height="3.56" fill="#fbdcc0"/><rect x="80.40" y="236.99" width="10.55" height="3.56" fill="#fbdcc1"/><rect x="80.40" y="240.50" width="10.55" height="3.56" fill="#8a8d93"/><rect x="80.40" y="244.01" width="10.55" height="3.56" fill="#fbdcc1"/><rect x="90.90" y="236.99" width="10.55" height="3.56" fill="#fbdcc1"/><rect x="90.90" y="240.50" width="10.55" height="3.56" fill="#84878d"/><rect x="90.90" y="244.01" width="10.55" height="3.56" fill="#fbdcc1"/><rect x="101.40" y="236.99" width="10.55" height="3.56" fill="#fbdcc2"/><rect x="101.40" y="240.50" width="10.55" height="3.56" fill="#808389"/><rect x="101.40" y="244.01" width="10.55" height="3.56" fill="#fbdcc2"/><rect x="111.90" y="236.99" width="10.55" height="3.56" fill="#fbdcc1"/><rect x="111.90" y="240.50" width="10.55" height="3.56" fill="#84878d"/><rect x="111.90" y="244.01" width="10.55" height="3.56" fill="#fbdcc1"/><rect x="122.40" y="236.99" width="10.55" height="3.56" fill="#fbdcc0"/><rect x="122.40" y="240.50" width="10.55" height="3.56" fill="#888b91"/><rect x="122.40" y="244.01" width="10.55" height="3.56" fill="#fbdbc0"/><rect x="132.90" y="236.99" width="10.55" height="3.56" fill="#fce1ca"/><rect x="132.90" y="240.50" width="10.55" height="3.56" fill="#9da0a6"/><rect x="132.90" y="244.01" width="10.55" height="3.56" fill="#fce0c9"/><rect x="143.40" y="236.99" width="10.55" height="3.56" fill="#fcdfc6"/><rect x="143.40" y="240.50" width="10.55" height="3.56" fill="#b8bbc1"/><rect x="143.40" y="244.01" width="10.55" height="3.56" fill="#fcdec6"/><rect x="153.90" y="236.99" width="10.55" height="3.56" fill="#fce1c9"/><rect x="153.90" y="240.50" width="10.55" height="3.56" fill="#e6e8eb"/><rect x="153.90" y="244.01" width="10.55" height="3.56" fill="#fce1ca"/><rect x="164.40" y="236.99" width="10.55" height="10.58" fill="#03341f"/><rect x="174.90" y="236.99" width="10.55" height="10.58" fill="#fefdfe"/><rect x="185.40" y="236.99" width="10.55" height="10.58" fill="#fefdfe"/><rect x="195.90" y="236.99" width="10.55" height="10.58" fill="#ffffff"/><rect x="206.40" y="236.99" width="10.55" height="10.58" fill="#ffffff"/><rect x="216.90" y="236.99" width="10.55" height="10.58" fill="#ffffff"/><rect x="227.40" y="236.99" width="10.55" height="10.58" fill="#ffffff"/><rect x="237.90" y="236.99" width="10.55" height="10.58" fill="#ffffff"/><rect x="248.40" y="236.99" width="10.55" height="10.58" fill="#ffffff"/><rect x="258.90" y="236.99" width="10.55" height="10.58" fill="#ffffff"/><rect x="269.40" y="236.99" width="10.55" height="10.58" fill="#ffffff"/><rect x="279.90" y="236.99" width="10.55" height="10.58" fill="#ffffff"/><rect x="27.90" y="247.52" width="10.55" height="3.56" fill="#fbddc3"/><rect x="27.90" y="251.03" width="10.55" height="3.56" fill="#e4e6ea"/><rect x="27.90" y="254.54" width="10.55" height="3.56" fill="#fbddc4"/><rect x="38.40" y="247.52" width="10.55" height="3.56" fill="#fbddc3"/><rect x="38.40" y="251.03" width="10.55" height="3.56" fill="#d5d8dd"/><rect x="38.40" y="254.54" width="10.55" height="3.56" fill="#fbddc3"/><rect x="48.90" y="247.52" width="10.55" height="3.56" fill="#fbddc3"/><rect x="48.90" y="251.03" width="10.55" height="3.56" fill="#dcdfe3"/><rect x="48.90" y="254.54" width="10.55" height="3.56" fill="#fbdec4"/><rect x="59.40" y="247.52" width="10.55" height="3.56" fill="#fbdbc0"/><rect x="59.40" y="251.03" width="10.55" height="3.56" fill="#a7aab0"/><rect x="59.40" y="254.54" width="10.55" height="3.56" fill="#fbdcc0"/><rect x="69.90" y="247.52" width="10.55" height="3.56" fill="#fbdcc0"/><rect x="69.90" y="251.03" width="10.55" height="3.56" fill="#a7aab0"/><rect x="69.90" y="254.54" width="10.55" height="3.56" fill="#fbdcc1"/><rect x="80.40" y="247.52" width="10.55" height="3.56" fill="#fbddc2"/><rect x="80.40" y="251.03" width="10.55" height="3.56" fill="#ecedf0"/><rect x="80.40" y="254.54" width="10.55" height="3.56" fill="#fbddc3"/><rect x="90.90" y="247.52" width="10.55" height="3.56" fill="#fbdcc2"/><rect x="90.90" y="251.03" width="10.55" height="3.56" fill="#f7f8f9"/><rect x="90.90" y="254.54" width="10.55" height="3.56" fill="#fbddc2"/><rect x="101.40" y="247.52" width="10.55" height="3.56" fill="#fbdbc0"/><rect x="101.40" y="251.03" width="10.55" height="3.56" fill="#ffffff"/><rect x="101.40" y="254.54" width="10.55" height="3.56" fill="#fbdbc0"/><rect x="111.90" y="247.52" width="10.55" height="3.56" fill="#fbdcc2"/><rect x="111.90" y="251.03" width="10.55" height="3.56" fill="#f7f8f9"/><rect x="111.90" y="254.54" width="10.55" height="3.56" fill="#fbdcc2"/><rect x="122.40" y="247.52" width="10.55" height="3.56" fill="#fbdcc1"/><rect x="122.40" y="251.03" width="10.55" height="3.56" fill="#eff0f2"/><rect x="122.40" y="254.54" width="10.55" height="3.56" fill="#fbdcc2"/><rect x="132.90" y="247.52" width="10.55" height="3.56" fill="#fce2cc"/><rect x="132.90" y="251.03" width="10.55" height="3.56" fill="#ced1d7"/><rect x="132.90" y="254.54" width="10.55" height="3.56" fill="#fce3cd"/><rect x="143.40" y="247.52" width="10.55" height="3.56" fill="#fcdfc7"/><rect x="143.40" y="251.03" width="10.55" height="3.56" fill="#b0b3b9"/><rect x="143.40" y="254.54" width="10.55" height="3.56" fill="#fce0c8"/><rect x="153.90" y="247.52" width="10.55" height="3.56" fill="#fcdfc7"/><rect x="153.90" y="251.03" width="10.55" height="3.56" fill="#75787e"/><rect x="153.90" y="254.54" width="10.55" height="3.56" fill="#fce0c8"/><rect x="164.40" y="247.52" width="10.55" height="3.56" fill="#fce1cb"/><rect x="164.40" y="251.03" width="10.55" height="3.56" fill="#808389"/><rect x="164.40" y="254.54" width="10.55" height="3.56" fill="#fce2cc"/><rect x="174.90" y="247.52" width="10.55" height="10.58" fill="#03341f"/><rect x="185.40" y="247.52" width="10.55" height="10.58" fill="#fefcfd"/><rect x="195.90" y="247.52" width="10.55" height="10.58" fill="#ffffff"/><rect x="206.40" y="247.52" width="10.55" height="10.58" fill="#ffffff"/><rect x="216.90" y="247.52" width="10.55" height="10.58" fill="#ffffff"/><rect x="227.40" y="247.52" width="10.55" height="10.58" fill="#ffffff"/><rect x="237.90" y="247.52" width="10.55" height="10.58" fill="#ffffff"/><rect x="248.40" y="247.52" width="10.55" height="10.58" fill="#ffffff"/><rect x="258.90" y="247.52" width="10.55" height="10.58" fill="#ffffff"/><rect x="269.40" y="247.52" width="10.55" height="10.58" fill="#ffffff"/><rect x="279.90" y="247.52" width="10.55" height="10.58" fill="#ffffff"/><rect x="27.90" y="258.05" width="10.55" height="3.56" fill="#fbdbc0"/><rect x="27.90" y="261.56" width="10.55" height="3.56" fill="#e7e9ec"/><rect x="27.90" y="265.07" width="10.55" height="3.56" fill="#fbdbc0"/><rect x="38.40" y="258.05" width="10.55" height="3.56" fill="#fbdbc0"/><rect x="38.40" y="261.56" width="10.55" height="3.56" fill="#d7dae0"/><rect x="38.40" y="265.07" width="10.55" height="3.56" fill="#fbdbc0"/><rect x="48.90" y="258.05" width="10.55" height="3.56" fill="#fbdbc0"/><rect x="48.90" y="261.56" width="10.55" height="3.56" fill="#dfe1e6"/><rect x="48.90" y="265.07" width="10.55" height="3.56" fill="#fbdbc0"/><rect x="59.40" y="258.05" width="10.55" height="3.56" fill="#fbdcc1"/><rect x="59.40" y="261.56" width="10.55" height="3.56" fill="#a9acb2"/><rect x="59.40" y="265.07" width="10.55" height="3.56" fill="#fbdcc1"/><rect x="69.90" y="258.05" width="10.55" height="3.56" fill="#fbdcc0"/><rect x="69.90" y="261.56" width="10.55" height="3.56" fill="#a9acb2"/><rect x="69.90" y="265.07" width="10.55" height="3.56" fill="#fbdcc1"/><rect x="80.40" y="258.05" width="10.55" height="3.56" fill="#fbddc2"/><rect x="80.40" y="261.56" width="10.55" height="3.56" fill="#eff0f2"/><rect x="80.40" y="265.07" width="10.55" height="3.56" fill="#fbddc3"/><rect x="90.90" y="258.05" width="10.55" height="3.56" fill="#fbdcc2"/><rect x="90.90" y="261.56" width="10.55" height="3.56" fill="#fafafb"/><rect x="90.90" y="265.07" width="10.55" height="3.56" fill="#fbddc3"/><rect x="101.40" y="258.05" width="10.55" height="3.56" fill="#fbdcc1"/><rect x="101.40" y="261.56" width="10.55" height="3.56" fill="#fcfcfc"/><rect x="101.40" y="265.07" width="10.55" height="3.56" fill="#fbdbc0"/><rect x="111.90" y="258.05" width="10.55" height="3.56" fill="#fbdcc2"/><rect x="111.90" y="261.56" width="10.55" height="3.56" fill="#fafafb"/><rect x="111.90" y="265.07" width="10.55" height="3.56" fill="#fbdcc2"/><rect x="122.40" y="258.05" width="10.55" height="3.56" fill="#fbdcc1"/><rect x="122.40" y="261.56" width="10.55" height="3.56" fill="#f2f3f5"/><rect x="122.40" y="265.07" width="10.55" height="3.56" fill="#fbdcc2"/><rect x="132.90" y="258.05" width="10.55" height="3.56" fill="#fce2cc"/><rect x="132.90" y="261.56" width="10.55" height="3.56" fill="#d0d3d9"/><rect x="132.90" y="265.07" width="10.55" height="3.56" fill="#fce3cd"/><rect x="143.40" y="258.05" width="10.55" height="3.56" fill="#fce0c8"/><rect x="143.40" y="261.56" width="10.55" height="3.56" fill="#b2b5bb"/><rect x="143.40" y="265.07" width="10.55" height="3.56" fill="#fce0c9"/><rect x="153.90" y="258.05" width="10.55" height="3.56" fill="#fce3ce"/><rect x="153.90" y="261.56" width="10.55" height="3.56" fill="#76797f"/><rect x="153.90" y="265.07" width="10.55" height="3.56" fill="#fce4cf"/><rect x="164.40" y="258.05" width="10.55" height="3.56" fill="#fce2cd"/><rect x="164.40" y="261.56" width="10.55" height="3.56" fill="#82858b"/><rect x="164.40" y="265.07" width="10.55" height="3.56" fill="#fce3ce"/><rect x="174.90" y="258.05" width="10.55" height="3.56" fill="#fce6d3"/><rect x="174.90" y="261.56" width="10.55" height="3.56" fill="#fcfcfc"/><rect x="174.90" y="265.07" width="10.55" height="3.56" fill="#fce5d1"/><rect x="185.40" y="258.05" width="10.55" height="10.58" fill="#03341f"/><rect x="195.90" y="258.05" width="10.55" height="10.58" fill="#ffffff"/><rect x="206.40" y="258.05" width="10.55" height="10.58" fill="#ffffff"/><rect x="216.90" y="258.05" width="10.55" height="10.58" fill="#ffffff"/><rect x="227.40" y="258.05" width="10.55" height="10.58" fill="#ffffff"/><rect x="237.90" y="258.05" width="10.55" height="10.58" fill="#ffffff"/><rect x="248.40" y="258.05" width="10.55" height="10.58" fill="#ffffff"/><rect x="258.90" y="258.05" width="10.55" height="10.58" fill="#ffffff"/><rect x="269.40" y="258.05" width="10.55" height="10.58" fill="#ffffff"/><rect x="279.90" y="258.05" width="10.55" height="10.58" fill="#ffffff"/><rect x="27.90" y="268.58" width="10.55" height="3.56" fill="#fbdabd"/><rect x="27.90" y="272.09" width="10.55" height="3.56" fill="#9a9da3"/><rect x="27.90" y="275.60" width="10.55" height="3.56" fill="#fbdabd"/><rect x="38.40" y="268.58" width="10.55" height="3.56" fill="#fbd9bd"/><rect x="38.40" y="272.09" width="10.55" height="3.56" fill="#a5a8ae"/><rect x="38.40" y="275.60" width="10.55" height="3.56" fill="#fbd9bd"/><rect x="48.90" y="268.58" width="10.55" height="3.56" fill="#fbdabd"/><rect x="48.90" y="272.09" width="10.55" height="3.56" fill="#9fa2a8"/><rect x="48.90" y="275.60" width="10.55" height="3.56" fill="#fbdabd"/><rect x="59.40" y="268.58" width="10.55" height="3.56" fill="#fbdbbf"/><rect x="59.40" y="272.09" width="10.55" height="3.56" fill="#d2d5db"/><rect x="59.40" y="275.60" width="10.55" height="3.56" fill="#fbdbbf"/><rect x="69.90" y="268.58" width="10.55" height="3.56" fill="#fbdbbf"/><rect x="69.90" y="272.09" width="10.55" height="3.56" fill="#d2d5db"/><rect x="69.90" y="275.60" width="10.55" height="3.56" fill="#fbdbbf"/><rect x="80.40" y="268.58" width="10.55" height="3.56" fill="#fbdabd"/><rect x="80.40" y="272.09" width="10.55" height="3.56" fill="#96999f"/><rect x="80.40" y="275.60" width="10.55" height="3.56" fill="#fbdabd"/><rect x="90.90" y="268.58" width="10.55" height="3.56" fill="#fbdabd"/><rect x="90.90" y="272.09" width="10.55" height="3.56" fill="#8f9298"/><rect x="90.90" y="275.60" width="10.55" height="3.56" fill="#fbdabd"/><rect x="101.40" y="268.58" width="10.55" height="3.56" fill="#fbdbbf"/><rect x="101.40" y="272.09" width="10.55" height="3.56" fill="#8b8e94"/><rect x="101.40" y="275.60" width="10.55" height="3.56" fill="#fbdabf"/><rect x="111.90" y="268.58" width="10.55" height="3.56" fill="#fbdabd"/><rect x="111.90" y="272.09" width="10.55" height="3.56" fill="#8f9298"/><rect x="111.90" y="275.60" width="10.55" height="3.56" fill="#fbdabd"/><rect x="122.40" y="268.58" width="10.55" height="3.56" fill="#fbdbbf"/><rect x="122.40" y="272.09" width="10.55" height="3.56" fill="#94979d"/><rect x="122.40" y="275.60" width="10.55" height="3.56" fill="#fbdabf"/><rect x="132.90" y="268.58" width="10.55" height="3.56" fill="#fbdbc0"/><rect x="132.90" y="272.09" width="10.55" height="3.56" fill="#aaadb3"/><rect x="132.90" y="275.60" width="10.55" height="3.56" fill="#fbdbc0"/><rect x="143.40" y="268.58" width="10.55" height="3.56" fill="#fbdabd"/><rect x="143.40" y="272.09" width="10.55" height="3.56" fill="#c7cad0"/><rect x="143.40" y="275.60" width="10.55" height="3.56" fill="#fbdabd"/><rect x="153.90" y="268.58" width="10.55" height="3.56" fill="#fbdabd"/><rect x="153.90" y="272.09" width="10.55" height="3.56" fill="#d3d6dc"/><rect x="153.90" y="275.60" width="10.55" height="3.56" fill="#fbdabd"/><rect x="164.40" y="268.58" width="10.55" height="3.56" fill="#fbdbbf"/><rect x="164.40" y="272.09" width="10.55" height="3.56" fill="#eaebee"/><rect x="164.40" y="275.60" width="10.55" height="3.56" fill="#fbdbbf"/><rect x="174.90" y="268.58" width="10.55" height="3.56" fill="#fbdabe"/><rect x="174.90" y="272.09" width="10.55" height="3.56" fill="#8b8e94"/><rect x="174.90" y="275.60" width="10.55" height="3.56" fill="#fbdabe"/><rect x="185.40" y="268.58" width="10.55" height="3.56" fill="#fbdabe"/><rect x="185.40" y="272.09" width="10.55" height="3.56" fill="#8d9096"/><rect x="185.40" y="275.60" width="10.55" height="3.56" fill="#fbdabe"/><rect x="195.90" y="268.58" width="10.55" height="10.58" fill="#03341f"/><rect x="206.40" y="268.58" width="10.55" height="10.58" fill="#ffffff"/><rect x="216.90" y="268.58" width="10.55" height="10.58" fill="#ffffff"/><rect x="227.40" y="268.58" width="10.55" height="10.58" fill="#ffffff"/><rect x="237.90" y="268.58" width="10.55" height="10.58" fill="#ffffff"/><rect x="248.40" y="268.58" width="10.55" height="10.58" fill="#ffffff"/><rect x="258.90" y="268.58" width="10.55" height="10.58" fill="#ffffff"/><rect x="269.40" y="268.58" width="10.55" height="10.58" fill="#ffffff"/><rect x="279.90" y="268.58" width="10.55" height="10.58" fill="#ffffff"/><rect x="27.90" y="279.11" width="10.55" height="3.56" fill="#fbd9bd"/><rect x="27.90" y="282.62" width="10.55" height="3.56" fill="#7c7f85"/><rect x="27.90" y="286.13" width="10.55" height="3.56" fill="#fbd9bd"/><rect x="38.40" y="279.11" width="10.55" height="3.56" fill="#fbdabd"/><rect x="38.40" y="282.62" width="10.55" height="3.56" fill="#85888e"/><rect x="38.40" y="286.13" width="10.55" height="3.56" fill="#fbdabd"/><rect x="48.90" y="279.11" width="10.55" height="3.56" fill="#fbd9bd"/><rect x="48.90" y="282.62" width="10.55" height="3.56" fill="#808389"/><rect x="48.90" y="286.13" width="10.55" height="3.56" fill="#fbd9bd"/><rect x="59.40" y="279.11" width="10.55" height="3.56" fill="#fbdabd"/><rect x="59.40" y="282.62" width="10.55" height="3.56" fill="#a9acb2"/><rect x="59.40" y="286.13" width="10.55" height="3.56" fill="#fbdabd"/><rect x="69.90" y="279.11" width="10.55" height="3.56" fill="#fbdabe"/><rect x="69.90" y="282.62" width="10.55" height="3.56" fill="#a9acb2"/><rect x="69.90" y="286.13" width="10.55" height="3.56" fill="#fbdabe"/><rect x="80.40" y="279.11" width="10.55" height="3.56" fill="#fbd9bd"/><rect x="80.40" y="282.62" width="10.55" height="3.56" fill="#797c82"/><rect x="80.40" y="286.13" width="10.55" height="3.56" fill="#fbd9bd"/><rect x="90.90" y="279.11" width="10.55" height="3.56" fill="#fbdabd"/><rect x="90.90" y="282.62" width="10.55" height="3.56" fill="#73767c"/><rect x="90.90" y="286.13" width="10.55" height="3.56" fill="#fbdabd"/><rect x="101.40" y="279.11" width="10.55" height="3.56" fill="#fbdabd"/><rect x="101.40" y="282.62" width="10.55" height="3.56" fill="#707379"/><rect x="101.40" y="286.13" width="10.55" height="3.56" fill="#fbdabd"/><rect x="111.90" y="279.11" width="10.55" height="3.56" fill="#fbdabd"/><rect x="111.90" y="282.62" width="10.55" height="3.56" fill="#73767c"/><rect x="111.90" y="286.13" width="10.55" height="3.56" fill="#fbdabd"/><rect x="122.40" y="279.11" width="10.55" height="3.56" fill="#fbdbc0"/><rect x="122.40" y="282.62" width="10.55" height="3.56" fill="#777a80"/><rect x="122.40" y="286.13" width="10.55" height="3.56" fill="#fbdbc0"/><rect x="132.90" y="279.11" width="10.55" height="3.56" fill="#fbdabe"/><rect x="132.90" y="282.62" width="10.55" height="3.56" fill="#898c92"/><rect x="132.90" y="286.13" width="10.55" height="3.56" fill="#fbdabe"/><rect x="143.40" y="279.11" width="10.55" height="3.56" fill="#fbdabd"/><rect x="143.40" y="282.62" width="10.55" height="3.56" fill="#a0a3a9"/><rect x="143.40" y="286.13" width="10.55" height="3.56" fill="#fbdabd"/><rect x="153.90" y="279.11" width="10.55" height="3.56" fill="#fbdabd"/><rect x="153.90" y="282.62" width="10.55" height="3.56" fill="#f4f5f6"/><rect x="153.90" y="286.13" width="10.55" height="3.56" fill="#fbdabd"/><rect x="164.40" y="279.11" width="10.55" height="3.56" fill="#fbdabd"/><rect x="164.40" y="282.62" width="10.55" height="3.56" fill="#dcdfe3"/><rect x="164.40" y="286.13" width="10.55" height="3.56" fill="#fbdabd"/><rect x="174.90" y="279.11" width="10.55" height="3.56" fill="#fbdabe"/><rect x="174.90" y="282.62" width="10.55" height="3.56" fill="#707379"/><rect x="174.90" y="286.13" width="10.55" height="3.56" fill="#fbdabe"/><rect x="185.40" y="279.11" width="10.55" height="3.56" fill="#fbdabe"/><rect x="185.40" y="282.62" width="10.55" height="3.56" fill="#71747a"/><rect x="185.40" y="286.13" width="10.55" height="3.56" fill="#fbdabe"/><rect x="195.90" y="279.11" width="10.55" height="3.56" fill="#fbd9bd"/><rect x="195.90" y="282.62" width="10.55" height="3.56" fill="#cbced4"/><rect x="195.90" y="286.13" width="10.55" height="3.56" fill="#fbd9bd"/><rect x="206.40" y="279.11" width="10.55" height="10.58" fill="#03341f"/><rect x="216.90" y="279.11" width="10.55" height="10.58" fill="#ead9ed"/><rect x="227.40" y="279.11" width="10.55" height="10.58" fill="#eadaed"/><rect x="237.90" y="279.11" width="10.55" height="10.58" fill="#ffffff"/><rect x="248.40" y="279.11" width="10.55" height="10.58" fill="#ffffff"/><rect x="258.90" y="279.11" width="10.55" height="10.58" fill="#ffffff"/><rect x="269.40" y="279.11" width="10.55" height="10.58" fill="#ffffff"/><rect x="279.90" y="279.11" width="10.55" height="10.58" fill="#ffffff"/><rect x="27.90" y="289.64" width="10.55" height="3.56" fill="#fbdabe"/><rect x="27.90" y="293.15" width="10.55" height="3.56" fill="#797c82"/><rect x="27.90" y="296.66" width="10.55" height="3.56" fill="#fbdabe"/><rect x="38.40" y="289.64" width="10.55" height="3.56" fill="#fbdabd"/><rect x="38.40" y="293.15" width="10.55" height="3.56" fill="#81848a"/><rect x="38.40" y="296.66" width="10.55" height="3.56" fill="#fbdabd"/><rect x="48.90" y="289.64" width="10.55" height="3.56" fill="#fbdabd"/><rect x="48.90" y="293.15" width="10.55" height="3.56" fill="#7d8086"/><rect x="48.90" y="296.66" width="10.55" height="3.56" fill="#fbdabd"/><rect x="59.40" y="289.64" width="10.55" height="3.56" fill="#fbdabe"/><rect x="59.40" y="293.15" width="10.55" height="3.56" fill="#a4a7ad"/><rect x="59.40" y="296.66" width="10.55" height="3.56" fill="#fbdabe"/><rect x="69.90" y="289.64" width="10.55" height="3.56" fill="#fbdabd"/><rect x="69.90" y="293.15" width="10.55" height="3.56" fill="#a4a7ad"/><rect x="69.90" y="296.66" width="10.55" height="3.56" fill="#fbdabd"/><rect x="80.40" y="289.64" width="10.55" height="3.56" fill="#fbdabe"/><rect x="80.40" y="293.15" width="10.55" height="3.56" fill="#75787e"/><rect x="80.40" y="296.66" width="10.55" height="3.56" fill="#fbdabe"/><rect x="90.90" y="289.64" width="10.55" height="3.56" fill="#fbdabd"/><rect x="90.90" y="293.15" width="10.55" height="3.56" fill="#707379"/><rect x="90.90" y="296.66" width="10.55" height="3.56" fill="#fbdabd"/><rect x="101.40" y="289.64" width="10.55" height="3.56" fill="#fbdabd"/><rect x="101.40" y="293.15" width="10.55" height="3.56" fill="#6d7076"/><rect x="101.40" y="296.66" width="10.55" height="3.56" fill="#fbdabd"/><rect x="111.90" y="289.64" width="10.55" height="3.56" fill="#fbdabd"/><rect x="111.90" y="293.15" width="10.55" height="3.56" fill="#707379"/><rect x="111.90" y="296.66" width="10.55" height="3.56" fill="#fbdabd"/><rect x="122.40" y="289.64" width="10.55" height="3.56" fill="#fbdcc0"/><rect x="122.40" y="293.15" width="10.55" height="3.56" fill="#73767c"/><rect x="122.40" y="296.66" width="10.55" height="3.56" fill="#fbdbc0"/><rect x="132.90" y="289.64" width="10.55" height="3.56" fill="#fbdbbf"/><rect x="132.90" y="293.15" width="10.55" height="3.56" fill="#85888e"/><rect x="132.90" y="296.66" width="10.55" height="3.56" fill="#fbdbbf"/><rect x="143.40" y="289.64" width="10.55" height="3.56" fill="#fbdabe"/><rect x="143.40" y="293.15" width="10.55" height="3.56" fill="#9c9fa5"/><rect x="143.40" y="296.66" width="10.55" height="3.56" fill="#fbdabe"/><rect x="153.90" y="289.64" width="10.55" height="3.56" fill="#fbdabe"/><rect x="153.90" y="293.15" width="10.55" height="3.56" fill="#eceef0"/><rect x="153.90" y="296.66" width="10.55" height="3.56" fill="#fbdabe"/><rect x="164.40" y="289.64" width="10.55" height="3.56" fill="#fbdabd"/><rect x="164.40" y="293.15" width="10.55" height="3.56" fill="#d5d8de"/><rect x="164.40" y="296.66" width="10.55" height="3.56" fill="#fbdabd"/><rect x="174.90" y="289.64" width="10.55" height="3.56" fill="#fbdabe"/><rect x="174.90" y="293.15" width="10.55" height="3.56" fill="#6d7076"/><rect x="174.90" y="296.66" width="10.55" height="3.56" fill="#fbdabe"/><rect x="185.40" y="289.64" width="10.55" height="3.56" fill="#fbdabe"/><rect x="185.40" y="293.15" width="10.55" height="3.56" fill="#6e7177"/><rect x="185.40" y="296.66" width="10.55" height="3.56" fill="#fbdabe"/><rect x="195.90" y="289.64" width="10.55" height="3.56" fill="#fbdabe"/><rect x="195.90" y="293.15" width="10.55" height="3.56" fill="#c4c7cd"/><rect x="195.90" y="296.66" width="10.55" height="3.56" fill="#fbdabe"/><rect x="206.40" y="289.64" width="10.55" height="3.56" fill="#fef5ed"/><rect x="206.40" y="293.15" width="10.55" height="3.56" fill="#f7f7f8"/><rect x="206.40" y="296.66" width="10.55" height="3.56" fill="#fef3e9"/><rect x="216.90" y="289.64" width="10.55" height="10.58" fill="#03341f"/><rect x="227.40" y="289.64" width="10.55" height="10.58" fill="#1494a5"/><rect x="237.90" y="289.64" width="10.55" height="10.58" fill="#ffffff"/><rect x="248.40" y="289.64" width="10.55" height="10.58" fill="#ffffff"/><rect x="258.90" y="289.64" width="10.55" height="10.58" fill="#ffffff"/><rect x="269.40" y="289.64" width="10.55" height="10.58" fill="#ffffff"/><rect x="279.90" y="289.64" width="10.55" height="10.58" fill="#ffffff"/><rect x="27.90" y="300.17" width="10.55" height="3.56" fill="#fbdabd"/><rect x="27.90" y="303.68" width="10.55" height="3.56" fill="#797c82"/><rect x="27.90" y="307.19" width="10.55" height="3.56" fill="#fbdabd"/><rect x="38.40" y="300.17" width="10.55" height="3.56" fill="#fbdabe"/><rect x="38.40" y="303.68" width="10.55" height="3.56" fill="#81848a"/><rect x="38.40" y="307.19" width="10.55" height="3.56" fill="#fbdabe"/><rect x="48.90" y="300.17" width="10.55" height="3.56" fill="#fbdabd"/><rect x="48.90" y="303.68" width="10.55" height="3.56" fill="#7d8086"/><rect x="48.90" y="307.19" width="10.55" height="3.56" fill="#fbdabd"/><rect x="59.40" y="300.17" width="10.55" height="3.56" fill="#fbdabe"/><rect x="59.40" y="303.68" width="10.55" height="3.56" fill="#a4a7ad"/><rect x="59.40" y="307.19" width="10.55" height="3.56" fill="#fbdabe"/><rect x="69.90" y="300.17" width="10.55" height="3.56" fill="#fbdabe"/><rect x="69.90" y="303.68" width="10.55" height="3.56" fill="#a4a7ad"/><rect x="69.90" y="307.19" width="10.55" height="3.56" fill="#fbdabe"/><rect x="80.40" y="300.17" width="10.55" height="3.56" fill="#fbdabe"/><rect x="80.40" y="303.68" width="10.55" height="3.56" fill="#75787e"/><rect x="80.40" y="307.19" width="10.55" height="3.56" fill="#fbdabe"/><rect x="90.90" y="300.17" width="10.55" height="3.56" fill="#fbd9bd"/><rect x="90.90" y="303.68" width="10.55" height="3.56" fill="#ffffff"/><rect x="90.90" y="307.19" width="10.55" height="3.56" fill="#fbd9bd"/><rect x="101.40" y="300.17" width="10.55" height="3.56" fill="#fbdabd"/><rect x="101.40" y="303.68" width="10.55" height="3.56" fill="#6d7076"/><rect x="101.40" y="307.19" width="10.55" height="3.56" fill="#fbdabd"/><rect x="111.90" y="300.17" width="10.55" height="3.56" fill="#fbdabe"/><rect x="111.90" y="303.68" width="10.55" height="3.56" fill="#707379"/><rect x="111.90" y="307.19" width="10.55" height="3.56" fill="#fbdabe"/><rect x="122.40" y="300.17" width="10.55" height="3.56" fill="#fbdbc0"/><rect x="122.40" y="303.68" width="10.55" height="3.56" fill="#73767c"/><rect x="122.40" y="307.19" width="10.55" height="3.56" fill="#fbdbc0"/><rect x="132.90" y="300.17" width="10.55" height="3.56" fill="#fbdbbf"/><rect x="132.90" y="303.68" width="10.55" height="3.56" fill="#85888e"/><rect x="132.90" y="307.19" width="10.55" height="3.56" fill="#fbdbbf"/><rect x="143.40" y="300.17" width="10.55" height="3.56" fill="#fbdabe"/><rect x="143.40" y="303.68" width="10.55" height="3.56" fill="#9c9fa5"/><rect x="143.40" y="307.19" width="10.55" height="3.56" fill="#fbdabe"/><rect x="153.90" y="300.17" width="10.55" height="3.56" fill="#fbdabe"/><rect x="153.90" y="303.68" width="10.55" height="3.56" fill="#eceef0"/><rect x="153.90" y="307.19" width="10.55" height="3.56" fill="#fbdabe"/><rect x="164.40" y="300.17" width="10.55" height="3.56" fill="#fbdabe"/><rect x="164.40" y="303.68" width="10.55" height="3.56" fill="#d5d8de"/><rect x="164.40" y="307.19" width="10.55" height="3.56" fill="#fbdabe"/><rect x="174.90" y="300.17" width="10.55" height="3.56" fill="#fbdabe"/><rect x="174.90" y="303.68" width="10.55" height="3.56" fill="#6d7076"/><rect x="174.90" y="307.19" width="10.55" height="3.56" fill="#fbdabe"/><rect x="185.40" y="300.17" width="10.55" height="3.56" fill="#fbdabe"/><rect x="185.40" y="303.68" width="10.55" height="3.56" fill="#6e7177"/><rect x="185.40" y="307.19" width="10.55" height="3.56" fill="#fbdabe"/><rect x="195.90" y="300.17" width="10.55" height="3.56" fill="#fbdabe"/><rect x="195.90" y="303.68" width="10.55" height="3.56" fill="#c4c7cd"/><rect x="195.90" y="307.19" width="10.55" height="3.56" fill="#fbdabe"/><rect x="206.40" y="300.17" width="10.55" height="3.56" fill="#fef5ed"/><rect x="206.40" y="303.68" width="10.55" height="3.56" fill="#f7f7f8"/><rect x="206.40" y="307.19" width="10.55" height="3.56" fill="#fef3e9"/><rect x="216.90" y="300.17" width="10.55" height="3.56" fill="#ffffff"/><rect x="216.90" y="303.68" width="10.55" height="3.56" fill="#ffffff"/><rect x="216.90" y="307.19" width="10.55" height="3.56" fill="#ffffff"/><rect x="227.40" y="300.17" width="10.55" height="10.58" fill="#03341f"/><rect x="237.90" y="300.17" width="10.55" height="10.58" fill="#ffffff"/><rect x="248.40" y="300.17" width="10.55" height="10.58" fill="#ffffff"/><rect x="258.90" y="300.17" width="10.55" height="10.58" fill="#ffffff"/><rect x="269.40" y="300.17" width="10.55" height="10.58" fill="#ffffff"/><rect x="279.90" y="300.17" width="10.55" height="10.58" fill="#ffffff"/><rect x="27.90" y="310.70" width="10.55" height="3.56" fill="#fbdabd"/><rect x="27.90" y="314.21" width="10.55" height="3.56" fill="#6a6d73"/><rect x="27.90" y="317.72" width="10.55" height="3.56" fill="#fbdabd"/><rect x="38.40" y="310.70" width="10.55" height="3.56" fill="#fbd9bd"/><rect x="38.40" y="314.21" width="10.55" height="3.56" fill="#71747a"/><rect x="38.40" y="317.72" width="10.55" height="3.56" fill="#fbd9bd"/><rect x="48.90" y="310.70" width="10.55" height="3.56" fill="#fbd9bd"/><rect x="48.90" y="314.21" width="10.55" height="3.56" fill="#6d7076"/><rect x="48.90" y="317.72" width="10.55" height="3.56" fill="#fbd9bd"/><rect x="59.40" y="310.70" width="10.55" height="3.56" fill="#fbdabd"/><rect x="59.40" y="314.21" width="10.55" height="3.56" fill="#909399"/><rect x="59.40" y="317.72" width="10.55" height="3.56" fill="#fbdabd"/><rect x="69.90" y="310.70" width="10.55" height="3.56" fill="#fbdabd"/><rect x="69.90" y="314.21" width="10.55" height="3.56" fill="#909399"/><rect x="69.90" y="317.72" width="10.55" height="3.56" fill="#fbdabd"/><rect x="80.40" y="310.70" width="10.55" height="3.56" fill="#fbd9bd"/><rect x="80.40" y="314.21" width="10.55" height="3.56" fill="#676a70"/><rect x="80.40" y="317.72" width="10.55" height="3.56" fill="#fbd9bd"/><rect x="90.90" y="310.70" width="10.55" height="3.56" fill="#fbdabd"/><rect x="90.90" y="314.21" width="10.55" height="3.56" fill="#62656b"/><rect x="90.90" y="317.72" width="10.55" height="3.56" fill="#fbdabd"/><rect x="101.40" y="310.70" width="10.55" height="3.56" fill="#fbdabd"/><rect x="101.40" y="314.21" width="10.55" height="3.56" fill="#5f6268"/><rect x="101.40" y="317.72" width="10.55" height="3.56" fill="#fbdabd"/><rect x="111.90" y="310.70" width="10.55" height="3.56" fill="#fbdabd"/><rect x="111.90" y="314.21" width="10.55" height="3.56" fill="#62656b"/><rect x="111.90" y="317.72" width="10.55" height="3.56" fill="#fbdabd"/><rect x="122.40" y="310.70" width="10.55" height="3.56" fill="#fbdabd"/><rect x="122.40" y="314.21" width="10.55" height="3.56" fill="#65686e"/><rect x="122.40" y="317.72" width="10.55" height="3.56" fill="#fbdabd"/><rect x="132.90" y="310.70" width="10.55" height="3.56" fill="#fbdabd"/><rect x="132.90" y="314.21" width="10.55" height="3.56" fill="#75787e"/><rect x="132.90" y="317.72" width="10.55" height="3.56" fill="#fbdabd"/><rect x="143.40" y="310.70" width="10.55" height="3.56" fill="#fbdabd"/><rect x="143.40" y="314.21" width="10.55" height="3.56" fill="#898c92"/><rect x="143.40" y="317.72" width="10.55" height="3.56" fill="#fbdabd"/><rect x="153.90" y="310.70" width="10.55" height="3.56" fill="#fbdabd"/><rect x="153.90" y="314.21" width="10.55" height="3.56" fill="#ced1d7"/><rect x="153.90" y="317.72" width="10.55" height="3.56" fill="#fbdabd"/><rect x="164.40" y="310.70" width="10.55" height="3.56" fill="#fbdabd"/><rect x="164.40" y="314.21" width="10.55" height="3.56" fill="#bbbec4"/><rect x="164.40" y="317.72" width="10.55" height="3.56" fill="#fbdabd"/><rect x="174.90" y="310.70" width="10.55" height="3.56" fill="#fbdabd"/><rect x="174.90" y="314.21" width="10.55" height="3.56" fill="#5f6268"/><rect x="174.90" y="317.72" width="10.55" height="3.56" fill="#fbdabd"/><rect x="185.40" y="310.70" width="10.55" height="3.56" fill="#fbd9bd"/><rect x="185.40" y="314.21" width="10.55" height="3.56" fill="#ffffff"/><rect x="185.40" y="317.72" width="10.55" height="3.56" fill="#fbd9bd"/><rect x="195.90" y="310.70" width="10.55" height="3.56" fill="#fbdabd"/><rect x="195.90" y="314.21" width="10.55" height="3.56" fill="#adb0b6"/><rect x="195.90" y="317.72" width="10.55" height="3.56" fill="#fbdabd"/><rect x="206.40" y="310.70" width="10.55" height="3.56" fill="#fbdbbf"/><rect x="206.40" y="314.21" width="10.55" height="3.56" fill="#d6d9df"/><rect x="206.40" y="317.72" width="10.55" height="3.56" fill="#fbdbbf"/><rect x="216.90" y="310.70" width="10.55" height="3.56" fill="#fbdcc1"/><rect x="216.90" y="314.21" width="10.55" height="3.56" fill="#dee0e5"/><rect x="216.90" y="317.72" width="10.55" height="3.56" fill="#fbdbc0"/><rect x="227.40" y="310.70" width="10.55" height="3.56" fill="#fbdbc0"/><rect x="227.40" y="314.21" width="10.55" height="3.56" fill="#dee0e5"/><rect x="227.40" y="317.72" width="10.55" height="3.56" fill="#fbdbc0"/><rect x="237.90" y="310.70" width="10.55" height="10.58" fill="#03341f"/><rect x="248.40" y="310.70" width="10.55" height="10.58" fill="#e9d9ed"/><rect x="258.90" y="310.70" width="10.55" height="10.58" fill="#f2e1f0"/><rect x="269.40" y="310.70" width="10.55" height="10.58" fill="#f2dfef"/><rect x="279.90" y="310.70" width="10.55" height="10.58" fill="#f2dfef"/><rect x="27.90" y="321.23" width="10.55" height="3.56" fill="#fbd9bd"/><rect x="27.90" y="324.74" width="10.55" height="3.56" fill="#707379"/><rect x="27.90" y="328.25" width="10.55" height="3.56" fill="#fbd9bd"/><rect x="38.40" y="321.23" width="10.55" height="3.56" fill="#fbd9bd"/><rect x="38.40" y="324.74" width="10.55" height="3.56" fill="#777a80"/><rect x="38.40" y="328.25" width="10.55" height="3.56" fill="#fbd9bd"/><rect x="48.90" y="321.23" width="10.55" height="3.56" fill="#fbd9bd"/><rect x="48.90" y="324.74" width="10.55" height="3.56" fill="#74777d"/><rect x="48.90" y="328.25" width="10.55" height="3.56" fill="#fbd9bd"/><rect x="59.40" y="321.23" width="10.55" height="3.56" fill="#fbdabd"/><rect x="59.40" y="324.74" width="10.55" height="3.56" fill="#989ba1"/><rect x="59.40" y="328.25" width="10.55" height="3.56" fill="#fbdabd"/><rect x="69.90" y="321.23" width="10.55" height="3.56" fill="#fbdabd"/><rect x="69.90" y="324.74" width="10.55" height="3.56" fill="#989ba1"/><rect x="69.90" y="328.25" width="10.55" height="3.56" fill="#fbdabd"/><rect x="80.40" y="321.23" width="10.55" height="3.56" fill="#fbdabd"/><rect x="80.40" y="324.74" width="10.55" height="3.56" fill="#6c6f75"/><rect x="80.40" y="328.25" width="10.55" height="3.56" fill="#fbdabd"/><rect x="90.90" y="321.23" width="10.55" height="3.56" fill="#fbd9bd"/><rect x="90.90" y="324.74" width="10.55" height="3.56" fill="#686b71"/><rect x="90.90" y="328.25" width="10.55" height="3.56" fill="#fbd9bd"/><rect x="101.40" y="321.23" width="10.55" height="3.56" fill="#fbdabd"/><rect x="101.40" y="324.74" width="10.55" height="3.56" fill="#65686e"/><rect x="101.40" y="328.25" width="10.55" height="3.56" fill="#fbdabd"/><rect x="111.90" y="321.23" width="10.55" height="3.56" fill="#fbdabd"/><rect x="111.90" y="324.74" width="10.55" height="3.56" fill="#686b71"/><rect x="111.90" y="328.25" width="10.55" height="3.56" fill="#fbdabd"/><rect x="122.40" y="321.23" width="10.55" height="3.56" fill="#fbdabe"/><rect x="122.40" y="324.74" width="10.55" height="3.56" fill="#6b6e74"/><rect x="122.40" y="328.25" width="10.55" height="3.56" fill="#fbdabe"/><rect x="132.90" y="321.23" width="10.55" height="3.56" fill="#fbdabd"/><rect x="132.90" y="324.74" width="10.55" height="3.56" fill="#7b7e84"/><rect x="132.90" y="328.25" width="10.55" height="3.56" fill="#fbdabd"/><rect x="143.40" y="321.23" width="10.55" height="3.56" fill="#fbdabd"/><rect x="143.40" y="324.74" width="10.55" height="3.56" fill="#909399"/><rect x="143.40" y="328.25" width="10.55" height="3.56" fill="#fbdabd"/><rect x="153.90" y="321.23" width="10.55" height="3.56" fill="#fbdabd"/><rect x="153.90" y="324.74" width="10.55" height="3.56" fill="#dadde2"/><rect x="153.90" y="328.25" width="10.55" height="3.56" fill="#fbdabd"/><rect x="164.40" y="321.23" width="10.55" height="3.56" fill="#fbdabd"/><rect x="164.40" y="324.74" width="10.55" height="3.56" fill="#c6c9cf"/><rect x="164.40" y="328.25" width="10.55" height="3.56" fill="#fbdabd"/><rect x="174.90" y="321.23" width="10.55" height="3.56" fill="#fbdabd"/><rect x="174.90" y="324.74" width="10.55" height="3.56" fill="#65686e"/><rect x="174.90" y="328.25" width="10.55" height="3.56" fill="#fbdabd"/><rect x="185.40" y="321.23" width="10.55" height="3.56" fill="#fbdabd"/><rect x="185.40" y="324.74" width="10.55" height="3.56" fill="#66696f"/><rect x="185.40" y="328.25" width="10.55" height="3.56" fill="#fbdabd"/><rect x="195.90" y="321.23" width="10.55" height="3.56" fill="#fbdabd"/><rect x="195.90" y="324.74" width="10.55" height="3.56" fill="#b6b9bf"/><rect x="195.90" y="328.25" width="10.55" height="3.56" fill="#fbdabd"/><rect x="206.40" y="321.23" width="10.55" height="3.56" fill="#fbdbc0"/><rect x="206.40" y="324.74" width="10.55" height="3.56" fill="#e4e6e9"/><rect x="206.40" y="328.25" width="10.55" height="3.56" fill="#fbdbc0"/><rect x="216.90" y="321.23" width="10.55" height="3.56" fill="#fbdbc0"/><rect x="216.90" y="324.74" width="10.55" height="3.56" fill="#ebedef"/><rect x="216.90" y="328.25" width="10.55" height="3.56" fill="#fbdbc0"/><rect x="227.40" y="321.23" width="10.55" height="3.56" fill="#fbdbc0"/><rect x="227.40" y="324.74" width="10.55" height="3.56" fill="#ebedef"/><rect x="227.40" y="328.25" width="10.55" height="3.56" fill="#fbdbc0"/><rect x="237.90" y="321.23" width="10.55" height="3.56" fill="#fef3ea"/><rect x="237.90" y="324.74" width="10.55" height="3.56" fill="#f0f1f3"/><rect x="237.90" y="328.25" width="10.55" height="3.56" fill="#fef5ed"/><rect x="248.40" y="321.23" width="10.55" height="10.58" fill="#03341f"/><rect x="258.90" y="321.23" width="10.55" height="10.58" fill="#d2d2eb"/><rect x="269.40" y="321.23" width="10.55" height="10.58" fill="#d0d1ea"/><rect x="279.90" y="321.23" width="10.55" height="10.58" fill="#c2cde8"/><rect x="27.90" y="331.76" width="10.55" height="3.56" fill="#fbdabd"/><rect x="27.90" y="335.27" width="10.55" height="3.56" fill="#606369"/><rect x="27.90" y="338.78" width="10.55" height="3.56" fill="#fbdabd"/><rect x="38.40" y="331.76" width="10.55" height="3.56" fill="#fbdabd"/><rect x="38.40" y="335.27" width="10.55" height="3.56" fill="#676a70"/><rect x="38.40" y="338.78" width="10.55" height="3.56" fill="#fbdabd"/><rect x="48.90" y="331.76" width="10.55" height="3.56" fill="#fbdabd"/><rect x="48.90" y="335.27" width="10.55" height="3.56" fill="#63666c"/><rect x="48.90" y="338.78" width="10.55" height="3.56" fill="#fbdabd"/><rect x="59.40" y="331.76" width="10.55" height="3.56" fill="#fbdabd"/><rect x="59.40" y="335.27" width="10.55" height="3.56" fill="#83868c"/><rect x="59.40" y="338.78" width="10.55" height="3.56" fill="#fbdabd"/><rect x="69.90" y="331.76" width="10.55" height="3.56" fill="#fbdabd"/><rect x="69.90" y="335.27" width="10.55" height="3.56" fill="#83868c"/><rect x="69.90" y="338.78" width="10.55" height="3.56" fill="#fbdabd"/><rect x="80.40" y="331.76" width="10.55" height="3.56" fill="#fbd9bd"/><rect x="80.40" y="335.27" width="10.55" height="3.56" fill="#ffffff"/><rect x="80.40" y="338.78" width="10.55" height="3.56" fill="#fbd9bd"/><rect x="90.90" y="331.76" width="10.55" height="3.56" fill="#fbdabd"/><rect x="90.90" y="335.27" width="10.55" height="3.56" fill="#595c62"/><rect x="90.90" y="338.78" width="10.55" height="3.56" fill="#fbdabd"/><rect x="101.40" y="331.76" width="10.55" height="3.56" fill="#fbdabd"/><rect x="101.40" y="335.27" width="10.55" height="3.56" fill="#575a60"/><rect x="101.40" y="338.78" width="10.55" height="3.56" fill="#fbdabd"/><rect x="111.90" y="331.76" width="10.55" height="3.56" fill="#fbdabd"/><rect x="111.90" y="335.27" width="10.55" height="3.56" fill="#595c62"/><rect x="111.90" y="338.78" width="10.55" height="3.56" fill="#fbdabd"/><rect x="122.40" y="331.76" width="10.55" height="3.56" fill="#fbdabe"/><rect x="122.40" y="335.27" width="10.55" height="3.56" fill="#5c5f65"/><rect x="122.40" y="338.78" width="10.55" height="3.56" fill="#fbdabe"/><rect x="132.90" y="331.76" width="10.55" height="3.56" fill="#fbdabe"/><rect x="132.90" y="335.27" width="10.55" height="3.56" fill="#6a6d73"/><rect x="132.90" y="338.78" width="10.55" height="3.56" fill="#fbdabe"/><rect x="143.40" y="331.76" width="10.55" height="3.56" fill="#fbdabd"/><rect x="143.40" y="335.27" width="10.55" height="3.56" fill="#7c7f85"/><rect x="143.40" y="338.78" width="10.55" height="3.56" fill="#fbdabd"/><rect x="153.90" y="331.76" width="10.55" height="3.56" fill="#fbdabe"/><rect x="153.90" y="335.27" width="10.55" height="3.56" fill="#bcbfc5"/><rect x="153.90" y="338.78" width="10.55" height="3.56" fill="#fbdabe"/><rect x="164.40" y="331.76" width="10.55" height="3.56" fill="#fbdabd"/><rect x="164.40" y="335.27" width="10.55" height="3.56" fill="#abaeb4"/><rect x="164.40" y="338.78" width="10.55" height="3.56" fill="#fbdabd"/><rect x="174.90" y="331.76" width="10.55" height="3.56" fill="#fbd9bd"/><rect x="174.90" y="335.27" width="10.55" height="3.56" fill="#ffffff"/><rect x="174.90" y="338.78" width="10.55" height="3.56" fill="#fbd9bd"/><rect x="185.40" y="331.76" width="10.55" height="3.56" fill="#fbdabd"/><rect x="185.40" y="335.27" width="10.55" height="3.56" fill="#585b61"/><rect x="185.40" y="338.78" width="10.55" height="3.56" fill="#fbdabd"/><rect x="195.90" y="331.76" width="10.55" height="3.56" fill="#fbdabd"/><rect x="195.90" y="335.27" width="10.55" height="3.56" fill="#9da0a6"/><rect x="195.90" y="338.78" width="10.55" height="3.56" fill="#fbdabd"/><rect x="206.40" y="331.76" width="10.55" height="3.56" fill="#fbdbc0"/><rect x="206.40" y="335.27" width="10.55" height="3.56" fill="#c3c6cc"/><rect x="206.40" y="338.78" width="10.55" height="3.56" fill="#fbdbc0"/><rect x="216.90" y="331.76" width="10.55" height="3.56" fill="#fbdbc0"/><rect x="216.90" y="335.27" width="10.55" height="3.56" fill="#c9ccd2"/><rect x="216.90" y="338.78" width="10.55" height="3.56" fill="#fbdbc0"/><rect x="227.40" y="331.76" width="10.55" height="3.56" fill="#fbdbc0"/><rect x="227.40" y="335.27" width="10.55" height="3.56" fill="#c9ccd2"/><rect x="227.40" y="338.78" width="10.55" height="3.56" fill="#fbdbc0"/><rect x="237.90" y="331.76" width="10.55" height="3.56" fill="#fef2e7"/><rect x="237.90" y="335.27" width="10.55" height="3.56" fill="#e7e8ec"/><rect x="237.90" y="338.78" width="10.55" height="3.56" fill="#fdf0e4"/><rect x="248.40" y="331.76" width="10.55" height="3.56" fill="#fef9f5"/><rect x="248.40" y="335.27" width="10.55" height="3.56" fill="#d9dce1"/><rect x="248.40" y="338.78" width="10.55" height="3.56" fill="#fef7f1"/><rect x="258.90" y="331.76" width="10.55" height="10.58" fill="#03341f"/><rect x="269.40" y="331.76" width="10.55" height="10.58" fill="#47a0d6"/><rect x="279.90" y="331.76" width="10.55" height="10.58" fill="#48a1d6"/><rect x="27.90" y="342.29" width="10.55" height="3.56" fill="#fbdabd"/><rect x="27.90" y="345.80" width="10.55" height="3.56" fill="#707379"/><rect x="27.90" y="349.31" width="10.55" height="3.56" fill="#fbdabd"/><rect x="38.40" y="342.29" width="10.55" height="3.56" fill="#fbdabd"/><rect x="38.40" y="345.80" width="10.55" height="3.56" fill="#777a80"/><rect x="38.40" y="349.31" width="10.55" height="3.56" fill="#fbdabd"/><rect x="48.90" y="342.29" width="10.55" height="3.56" fill="#fbdabd"/><rect x="48.90" y="345.80" width="10.55" height="3.56" fill="#74777d"/><rect x="48.90" y="349.31" width="10.55" height="3.56" fill="#fbdabd"/><rect x="59.40" y="342.29" width="10.55" height="3.56" fill="#fbdabd"/><rect x="59.40" y="345.80" width="10.55" height="3.56" fill="#989ba1"/><rect x="59.40" y="349.31" width="10.55" height="3.56" fill="#fbdabd"/><rect x="69.90" y="342.29" width="10.55" height="3.56" fill="#fbd9bd"/><rect x="69.90" y="345.80" width="10.55" height="3.56" fill="#989ba1"/><rect x="69.90" y="349.31" width="10.55" height="3.56" fill="#fbd9bd"/><rect x="80.40" y="342.29" width="10.55" height="3.56" fill="#fbdabd"/><rect x="80.40" y="345.80" width="10.55" height="3.56" fill="#6c6f75"/><rect x="80.40" y="349.31" width="10.55" height="3.56" fill="#fbdabd"/><rect x="90.90" y="342.29" width="10.55" height="3.56" fill="#fbdabd"/><rect x="90.90" y="345.80" width="10.55" height="3.56" fill="#686b71"/><rect x="90.90" y="349.31" width="10.55" height="3.56" fill="#fbdabd"/><rect x="101.40" y="342.29" width="10.55" height="3.56" fill="#fbdabd"/><rect x="101.40" y="345.80" width="10.55" height="3.56" fill="#65686e"/><rect x="101.40" y="349.31" width="10.55" height="3.56" fill="#fbdabd"/><rect x="111.90" y="342.29" width="10.55" height="3.56" fill="#fbdabd"/><rect x="111.90" y="345.80" width="10.55" height="3.56" fill="#686b71"/><rect x="111.90" y="349.31" width="10.55" height="3.56" fill="#fbdabd"/><rect x="122.40" y="342.29" width="10.55" height="3.56" fill="#fbdabe"/><rect x="122.40" y="345.80" width="10.55" height="3.56" fill="#6b6e74"/><rect x="122.40" y="349.31" width="10.55" height="3.56" fill="#fbdabe"/><rect x="132.90" y="342.29" width="10.55" height="3.56" fill="#fbdabe"/><rect x="132.90" y="345.80" width="10.55" height="3.56" fill="#7b7e84"/><rect x="132.90" y="349.31" width="10.55" height="3.56" fill="#fbdabe"/><rect x="143.40" y="342.29" width="10.55" height="3.56" fill="#fbdabd"/><rect x="143.40" y="345.80" width="10.55" height="3.56" fill="#909399"/><rect x="143.40" y="349.31" width="10.55" height="3.56" fill="#fbdabd"/><rect x="153.90" y="342.29" width="10.55" height="3.56" fill="#fbdabe"/><rect x="153.90" y="345.80" width="10.55" height="3.56" fill="#dadde2"/><rect x="153.90" y="349.31" width="10.55" height="3.56" fill="#fbdabe"/><rect x="164.40" y="342.29" width="10.55" height="3.56" fill="#fbdabd"/><rect x="164.40" y="345.80" width="10.55" height="3.56" fill="#c6c9cf"/><rect x="164.40" y="349.31" width="10.55" height="3.56" fill="#fbdabd"/><rect x="174.90" y="342.29" width="10.55" height="3.56" fill="#fbdabd"/><rect x="174.90" y="345.80" width="10.55" height="3.56" fill="#65686e"/><rect x="174.90" y="349.31" width="10.55" height="3.56" fill="#fbdabd"/><rect x="185.40" y="342.29" width="10.55" height="3.56" fill="#fbdabd"/><rect x="185.40" y="345.80" width="10.55" height="3.56" fill="#66696f"/><rect x="185.40" y="349.31" width="10.55" height="3.56" fill="#fbdabd"/><rect x="195.90" y="342.29" width="10.55" height="3.56" fill="#fbdabd"/><rect x="195.90" y="345.80" width="10.55" height="3.56" fill="#b6b9bf"/><rect x="195.90" y="349.31" width="10.55" height="3.56" fill="#fbdabd"/><rect x="206.40" y="342.29" width="10.55" height="3.56" fill="#fbdbbf"/><rect x="206.40" y="345.80" width="10.55" height="3.56" fill="#e4e6e9"/><rect x="206.40" y="349.31" width="10.55" height="3.56" fill="#fbdbbf"/><rect x="216.90" y="342.29" width="10.55" height="3.56" fill="#fbdbc0"/><rect x="216.90" y="345.80" width="10.55" height="3.56" fill="#ebedef"/><rect x="216.90" y="349.31" width="10.55" height="3.56" fill="#fbdbbf"/><rect x="227.40" y="342.29" width="10.55" height="3.56" fill="#fbdbc0"/><rect x="227.40" y="345.80" width="10.55" height="3.56" fill="#ebedef"/><rect x="227.40" y="349.31" width="10.55" height="3.56" fill="#fbdbc0"/><rect x="237.90" y="342.29" width="10.55" height="3.56" fill="#fdf0e5"/><rect x="237.90" y="345.80" width="10.55" height="3.56" fill="#f0f1f3"/><rect x="237.90" y="349.31" width="10.55" height="3.56" fill="#fef2e8"/><rect x="248.40" y="342.29" width="10.55" height="3.56" fill="#fef7f1"/><rect x="248.40" y="345.80" width="10.55" height="3.56" fill="#ffffff"/><rect x="248.40" y="349.31" width="10.55" height="3.56" fill="#fef7f1"/><rect x="258.90" y="342.29" width="10.55" height="3.56" fill="#ffffff"/><rect x="258.90" y="345.80" width="10.55" height="3.56" fill="#d9dce1"/><rect x="258.90" y="349.31" width="10.55" height="3.56" fill="#ffffff"/><rect x="269.40" y="342.29" width="10.55" height="10.58" fill="#03341f"/><rect x="279.90" y="342.29" width="10.55" height="10.58" fill="#1493a6"/><rect x="27.90" y="352.82" width="10.55" height="3.56" fill="#fbdabd"/><rect x="27.90" y="356.33" width="10.55" height="3.56" fill="#6a6d73"/><rect x="27.90" y="359.84" width="10.55" height="3.56" fill="#fbdabd"/><rect x="38.40" y="352.82" width="10.55" height="3.56" fill="#fbdabd"/><rect x="38.40" y="356.33" width="10.55" height="3.56" fill="#71747a"/><rect x="38.40" y="359.84" width="10.55" height="3.56" fill="#fbdabd"/><rect x="48.90" y="352.82" width="10.55" height="3.56" fill="#fbdabd"/><rect x="48.90" y="356.33" width="10.55" height="3.56" fill="#6d7076"/><rect x="48.90" y="359.84" width="10.55" height="3.56" fill="#fbdabd"/><rect x="59.40" y="352.82" width="10.55" height="3.56" fill="#fbdabd"/><rect x="59.40" y="356.33" width="10.55" height="3.56" fill="#909399"/><rect x="59.40" y="359.84" width="10.55" height="3.56" fill="#fbdabd"/><rect x="69.90" y="352.82" width="10.55" height="3.56" fill="#fbdabd"/><rect x="69.90" y="356.33" width="10.55" height="3.56" fill="#909399"/><rect x="69.90" y="359.84" width="10.55" height="3.56" fill="#fbdabd"/><rect x="80.40" y="352.82" width="10.55" height="3.56" fill="#fbdabd"/><rect x="80.40" y="356.33" width="10.55" height="3.56" fill="#676a70"/><rect x="80.40" y="359.84" width="10.55" height="3.56" fill="#fbdabd"/><rect x="90.90" y="352.82" width="10.55" height="3.56" fill="#fbd9bd"/><rect x="90.90" y="356.33" width="10.55" height="3.56" fill="#62656b"/><rect x="90.90" y="359.84" width="10.55" height="3.56" fill="#fbd9bd"/><rect x="101.40" y="352.82" width="10.55" height="3.56" fill="#fbdabd"/><rect x="101.40" y="356.33" width="10.55" height="3.56" fill="#5f6268"/><rect x="101.40" y="359.84" width="10.55" height="3.56" fill="#fbdabd"/><rect x="111.90" y="352.82" width="10.55" height="3.56" fill="#fbdabd"/><rect x="111.90" y="356.33" width="10.55" height="3.56" fill="#62656b"/><rect x="111.90" y="359.84" width="10.55" height="3.56" fill="#fbdabd"/><rect x="122.40" y="352.82" width="10.55" height="3.56" fill="#fbdabe"/><rect x="122.40" y="356.33" width="10.55" height="3.56" fill="#65686e"/><rect x="122.40" y="359.84" width="10.55" height="3.56" fill="#fbdabe"/><rect x="132.90" y="352.82" width="10.55" height="3.56" fill="#fbdabd"/><rect x="132.90" y="356.33" width="10.55" height="3.56" fill="#75787e"/><rect x="132.90" y="359.84" width="10.55" height="3.56" fill="#fbdabd"/><rect x="143.40" y="352.82" width="10.55" height="3.56" fill="#fbdabd"/><rect x="143.40" y="356.33" width="10.55" height="3.56" fill="#898c92"/><rect x="143.40" y="359.84" width="10.55" height="3.56" fill="#fbdabd"/><rect x="153.90" y="352.82" width="10.55" height="3.56" fill="#fbdabe"/><rect x="153.90" y="356.33" width="10.55" height="3.56" fill="#ced1d7"/><rect x="153.90" y="359.84" width="10.55" height="3.56" fill="#fbdabe"/><rect x="164.40" y="352.82" width="10.55" height="3.56" fill="#fbdabd"/><rect x="164.40" y="356.33" width="10.55" height="3.56" fill="#bbbec4"/><rect x="164.40" y="359.84" width="10.55" height="3.56" fill="#fbdabd"/><rect x="174.90" y="352.82" width="10.55" height="3.56" fill="#fbd9bd"/><rect x="174.90" y="356.33" width="10.55" height="3.56" fill="#ffffff"/><rect x="174.90" y="359.84" width="10.55" height="3.56" fill="#fbd9bd"/><rect x="185.40" y="352.82" width="10.55" height="3.56" fill="#fbdabd"/><rect x="185.40" y="356.33" width="10.55" height="3.56" fill="#606369"/><rect x="185.40" y="359.84" width="10.55" height="3.56" fill="#fbdabd"/><rect x="195.90" y="352.82" width="10.55" height="3.56" fill="#fbdabd"/><rect x="195.90" y="356.33" width="10.55" height="3.56" fill="#adb0b6"/><rect x="195.90" y="359.84" width="10.55" height="3.56" fill="#fbdabd"/><rect x="206.40" y="352.82" width="10.55" height="3.56" fill="#fbdbc0"/><rect x="206.40" y="356.33" width="10.55" height="3.56" fill="#d6d9df"/><rect x="206.40" y="359.84" width="10.55" height="3.56" fill="#fbdbc0"/><rect x="216.90" y="352.82" width="10.55" height="3.56" fill="#fbdbc0"/><rect x="216.90" y="356.33" width="10.55" height="3.56" fill="#dee0e5"/><rect x="216.90" y="359.84" width="10.55" height="3.56" fill="#fbdbc0"/><rect x="227.40" y="352.82" width="10.55" height="3.56" fill="#fbdbc0"/><rect x="227.40" y="356.33" width="10.55" height="3.56" fill="#dee0e5"/><rect x="227.40" y="359.84" width="10.55" height="3.56" fill="#fbdbc0"/><rect x="237.90" y="352.82" width="10.55" height="3.56" fill="#fdf0e5"/><rect x="237.90" y="356.33" width="10.55" height="3.56" fill="#ffffff"/><rect x="237.90" y="359.84" width="10.55" height="3.56" fill="#fdf0e5"/><rect x="248.40" y="352.82" width="10.55" height="3.56" fill="#fffbf9"/><rect x="248.40" y="356.33" width="10.55" height="3.56" fill="#f0f1f3"/><rect x="248.40" y="359.84" width="10.55" height="3.56" fill="#fef9f4"/><rect x="258.90" y="352.82" width="10.55" height="3.56" fill="#ffffff"/><rect x="258.90" y="356.33" width="10.55" height="3.56" fill="#e7e8ec"/><rect x="258.90" y="359.84" width="10.55" height="3.56" fill="#ffffff"/><rect x="269.40" y="352.82" width="10.55" height="3.56" fill="#ffffff"/><rect x="269.40" y="356.33" width="10.55" height="3.56" fill="#f0f1f3"/><rect x="269.40" y="359.84" width="10.55" height="3.56" fill="#ffffff"/><rect x="279.90" y="352.82" width="10.55" height="10.58" fill="#03341f"/></g>
<g font-size="3.75" text-anchor="middle" fill="#000" stroke="#000" stroke-width="0.09"><text x="33.15" y="106.66">100</text><text x="43.65" y="106.66">77.8</text><text x="54.15" y="106.66">81.1</text><text x="64.65" y="106.66">0.7</text><text x="75.15" y="106.66">0.7</text><text x="85.65" y="106.66">1.2</text><text x="96.15" y="106.66">0.9</text><text x="106.65" y="106.66">0.7</text><text x="117.15" y="106.66">1.2</text><text x="127.65" y="106.66">0.5</text><text x="138.15" y="106.66">1.1</text><text x="148.65" y="106.66">1.0</text><text x="159.15" y="106.66">1.4</text><text x="169.65" y="106.66">1.0</text><text x="180.15" y="106.66">3.8</text><text x="190.65" y="106.66">1.5</text><text x="201.15" y="106.66">0.1</text><text x="211.65" y="106.66">0.0</text><text x="222.15" y="106.66">0.3</text><text x="232.65" y="106.66">0.2</text><text x="243.15" y="106.66">0.1</text><text x="253.65" y="106.66">0.0</text><text x="264.15" y="106.66">0.1</text><text x="274.65" y="106.66">0.1</text><text x="285.15" y="106.66">0.1</text><text x="43.65" y="117.19">100</text><text x="54.15" y="117.19">87.1</text><text x="64.65" y="117.19">0.7</text><text x="75.15" y="117.19">0.8</text><text x="85.65" y="117.19">0.9</text><text x="96.15" y="117.19">0.8</text><text x="106.65" y="117.19">0.6</text><text x="117.15" y="117.19">1.1</text><text x="127.65" y="117.19">0.5</text><text x="138.15" y="117.19">1.1</text><text x="148.65" y="117.19">0.9</text><text x="159.15" y="117.19">1.6</text><text x="169.65" y="117.19">1.1</text><text x="180.15" y="117.19">3.7</text><text x="190.65" y="117.19">1.6</text><text x="201.15" y="117.19">0.0</text><text x="211.65" y="117.19">0.1</text><text x="222.15" y="117.19">0.2</text><text x="232.65" y="117.19">0.3</text><text x="243.15" y="117.19">0.0</text><text x="253.65" y="117.19">0.0</text><text x="264.15" y="117.19">0.1</text><text x="274.65" y="117.19">0.1</text><text x="285.15" y="117.19">0.1</text><text x="54.15" y="127.72">100</text><text x="64.65" y="127.72">0.6</text><text x="75.15" y="127.72">0.7</text><text x="85.65" y="127.72">0.9</text><text x="96.15" y="127.72">0.8</text><text x="106.65" y="127.72">0.7</text><text x="117.15" y="127.72">1.1</text><text x="127.65" y="127.72">0.4</text><text x="138.15" y="127.72">1.2</text><text x="148.65" y="127.72">0.7</text><text x="159.15" y="127.72">1.3</text><text x="169.65" y="127.72">1.3</text><text x="180.15" y="127.72">4.1</text><text x="190.65" y="127.72">1.4</text><text x="201.15" y="127.72">0.1</text><text x="211.65" y="127.72">0.0</text><text x="222.15" y="127.72">0.2</text><text x="232.65" y="127.72">0.2</text><text x="243.15" y="127.72">0.0</text><text x="253.65" y="127.72">0.0</text><text x="264.15" y="127.72">0.1</text><text x="274.65" y="127.72">0.1</text><text x="285.15" y="127.72">0.1</text><text x="64.65" y="138.25">100</text><text x="75.15" y="138.25">90.9</text><text x="85.65" y="138.25">15.0</text><text x="96.15" y="138.25">13.6</text><text x="106.65" y="138.25">15.3</text><text x="117.15" y="138.25">15.2</text><text x="127.65" y="138.25">1.2</text><text x="138.15" y="138.25">3.9</text><text x="148.65" y="138.25">3.4</text><text x="159.15" y="138.25">1.6</text><text x="169.65" y="138.25">2.6</text><text x="180.15" y="138.25">1.8</text><text x="190.65" y="138.25">2.2</text><text x="201.15" y="138.25">1.2</text><text x="211.65" y="138.25">0.2</text><text x="222.15" y="138.25">0.3</text><text x="232.65" y="138.25">0.3</text><text x="243.15" y="138.25">0.1</text><text x="253.65" y="138.25">0.2</text><text x="264.15" y="138.25">0.1</text><text x="274.65" y="138.25">0.1</text><text x="285.15" y="138.25">0.2</text><text x="75.15" y="148.78">100</text><text x="85.65" y="148.78">14.1</text><text x="96.15" y="148.78">13.2</text><text x="106.65" y="148.78">15.0</text><text x="117.15" y="148.78">15.6</text><text x="127.65" y="148.78">1.0</text><text x="138.15" y="148.78">4.3</text><text x="148.65" y="148.78">3.3</text><text x="159.15" y="148.78">1.3</text><text x="169.65" y="148.78">2.0</text><text x="180.15" y="148.78">2.0</text><text x="190.65" y="148.78">2.0</text><text x="201.15" y="148.78">1.1</text><text x="211.65" y="148.78">0.3</text><text x="222.15" y="148.78">0.2</text><text x="232.65" y="148.78">0.5</text><text x="243.15" y="148.78">0.1</text><text x="253.65" y="148.78">0.2</text><text x="264.15" y="148.78">0.1</text><text x="274.65" y="148.78">0.0</text><text x="285.15" y="148.78">0.1</text><text x="85.65" y="159.31">100</text><text x="96.15" y="159.31">22.1</text><text x="106.65" y="159.31">19.6</text><text x="117.15" y="159.31">21.2</text><text x="127.65" y="159.31">1.1</text><text x="138.15" y="159.31">4.0</text><text x="148.65" y="159.31">3.9</text><text x="159.15" y="159.31">1.7</text><text x="169.65" y="159.31">2.3</text><text x="180.15" y="159.31">3.4</text><text x="190.65" y="159.31">3.2</text><text x="201.15" y="159.31">0.1</text><text x="211.65" y="159.31">0.0</text><text x="222.15" y="159.31">0.3</text><text x="232.65" y="159.31">0.4</text><text x="243.15" y="159.31">0.0</text><text x="253.65" y="159.31">0.1</text><text x="264.15" y="159.31">0.0</text><text x="274.65" y="159.31">0.1</text><text x="285.15" y="159.31">0.1</text><text x="96.15" y="169.84">100</text><text x="106.65" y="169.84">72.2</text><text x="117.15" y="169.84">70.2</text><text x="127.65" y="169.84">0.8</text><text x="138.15" y="169.84">3.8</text><text x="148.65" y="169.84">3.0</text><text x="159.15" y="169.84">1.2</text><text x="169.65" y="169.84">2.4</text><text x="180.15" y="169.84">3.0</text><text x="190.65" y="169.84">3.1</text><text x="201.15" y="169.84">0.2</text><text x="211.65" y="169.84">0.1</text><text x="222.15" y="169.84">0.1</text><text x="232.65" y="169.84">0.0</text><text x="243.15" y="169.84">0.1</text><text x="253.65" y="169.84">0.0</text><text x="264.15" y="169.84">0.1</text><text x="274.65" y="169.84">0.1</text><text x="285.15" y="169.84">0.0</text><text x="106.65" y="180.38">100</text><text x="117.15" y="180.38">72.4</text><text x="127.65" y="180.38">1.1</text><text x="138.15" y="180.38">3.7</text><text x="148.65" y="180.38">2.5</text><text x="159.15" y="180.38">1.0</text><text x="169.65" y="180.38">2.7</text><text x="180.15" y="180.38">1.6</text><text x="190.65" y="180.38">1.9</text><text x="201.15" y="180.38">0.8</text><text x="211.65" y="180.38">0.2</text><text x="222.15" y="180.38">0.2</text><text x="232.65" y="180.38">0.2</text><text x="243.15" y="180.38">0.2</text><text x="253.65" y="180.38">0.1</text><text x="264.15" y="180.38">0.2</text><text x="274.65" y="180.38">0.1</text><text x="285.15" y="180.38">0.2</text><text x="117.15" y="190.91">100</text><text x="127.65" y="190.91">0.9</text><text x="138.15" y="190.91">3.7</text><text x="148.65" y="190.91">2.0</text><text x="159.15" y="190.91">1.4</text><text x="169.65" y="190.91">2.4</text><text x="180.15" y="190.91">2.8</text><text x="190.65" y="190.91">2.8</text><text x="201.15" y="190.91">0.2</text><text x="211.65" y="190.91">0.1</text><text x="222.15" y="190.91">0.1</text><text x="232.65" y="190.91">0.3</text><text x="243.15" y="190.91">0.1</text><text x="253.65" y="190.91">0.2</text><text x="264.15" y="190.91">0.1</text><text x="274.65" y="190.91">0.1</text><text x="285.15" y="190.91">0.2</text><text x="127.65" y="201.44">100</text><text x="138.15" y="201.44">3.3</text><text x="148.65" y="201.44">2.0</text><text x="159.15" y="201.44">1.8</text><text x="169.65" y="201.44">1.8</text><text x="180.15" y="201.44">2.6</text><text x="190.65" y="201.44">2.6</text><text x="201.15" y="201.44">0.8</text><text x="211.65" y="201.44">1.4</text><text x="222.15" y="201.44">1.8</text><text x="232.65" y="201.44">1.7</text><text x="243.15" y="201.44">0.1</text><text x="253.65" y="201.44">0.4</text><text x="264.15" y="201.44">0.4</text><text x="274.65" y="201.44">0.6</text><text x="285.15" y="201.44">0.4</text><text x="138.15" y="211.97">100</text><text x="148.65" y="211.97">10.0</text><text x="159.15" y="211.97">7.8</text><text x="169.65" y="211.97">8.8</text><text x="180.15" y="211.97">11.5</text><text x="190.65" y="211.97">11.6</text><text x="201.15" y="211.97">1.7</text><text x="211.65" y="211.97">0.7</text><text x="222.15" y="211.97">0.9</text><text x="232.65" y="211.97">1.1</text><text x="243.15" y="211.97">0.1</text><text x="253.65" y="211.97">0.2</text><text x="264.15" y="211.97">0.3</text><text x="274.65" y="211.97">0.3</text><text x="285.15" y="211.97">0.2</text><text x="148.65" y="222.50">100</text><text x="159.15" y="222.50">5.3</text><text x="169.65" y="222.50">5.8</text><text x="180.15" y="222.50">7.2</text><text x="190.65" y="222.50">8.0</text><text x="201.15" y="222.50">0.2</text><text x="211.65" y="222.50">0.2</text><text x="222.15" y="222.50">0.4</text><text x="232.65" y="222.50">0.3</text><text x="243.15" y="222.50">0.1</text><text x="253.65" y="222.50">0.1</text><text x="264.15" y="222.50">0.1</text><text x="274.65" y="222.50">0.1</text><text x="285.15" y="222.50">0.1</text><text x="159.15" y="233.03">100</text><text x="169.65" y="233.03">8.9</text><text x="180.15" y="233.03">7.3</text><text x="190.65" y="233.03">13.2</text><text x="201.15" y="233.03">0.2</text><text x="211.65" y="233.03">0.1</text><text x="222.15" y="233.03">0.5</text><text x="232.65" y="233.03">0.6</text><text x="243.15" y="233.03">0.1</text><text x="253.65" y="233.03">0.2</text><text x="264.15" y="233.03">0.4</text><text x="274.65" y="233.03">0.6</text><text x="285.15" y="233.03">0.6</text><text x="169.65" y="243.56">100</text><text x="180.15" y="243.56">10.1</text><text x="190.65" y="243.56">12.1</text><text x="201.15" y="243.56">1.0</text><text x="211.65" y="243.56">0.2</text><text x="222.15" y="243.56">0.2</text><text x="232.65" y="243.56">0.4</text><text x="243.15" y="243.56">0.2</text><text x="253.65" y="243.56">0.2</text><text x="264.15" y="243.56">0.2</text><text x="274.65" y="243.56">0.1</text><text x="285.15" y="243.56">0.1</text><text x="180.15" y="254.09">100</text><text x="190.65" y="254.09">16.5</text><text x="201.15" y="254.09">0.4</text><text x="211.65" y="254.09">0.3</text><text x="222.15" y="254.09">0.3</text><text x="232.65" y="254.09">0.4</text><text x="243.15" y="254.09">0.1</text><text x="253.65" y="254.09">0.1</text><text x="264.15" y="254.09">0.0</text><text x="274.65" y="254.09">0.1</text><text x="285.15" y="254.09">0.0</text><text x="190.65" y="264.62">100</text><text x="201.15" y="264.62">0.6</text><text x="211.65" y="264.62">0.3</text><text x="222.15" y="264.62">0.7</text><text x="232.65" y="264.62">0.6</text><text x="243.15" y="264.62">0.0</text><text x="253.65" y="264.62">0.1</text><text x="264.15" y="264.62">0.1</text><text x="274.65" y="264.62">0.2</text><text x="285.15" y="264.62">0.2</text><text x="201.15" y="275.14">100</text><text x="211.65" y="275.14">0.0</text><text x="222.15" y="275.14">0.4</text><text x="232.65" y="275.14">0.3</text><text x="243.15" y="275.14">0.1</text><text x="253.65" y="275.14">0.1</text><text x="264.15" y="275.14">0.1</text><text x="274.65" y="275.14">0.1</text><text x="285.15" y="275.14">0.1</text><text x="211.65" y="285.68">100</text><text x="222.15" y="285.68">43.2</text><text x="232.65" y="285.68">43.1</text><text x="243.15" y="285.68">1.0</text><text x="253.65" y="285.68">1.4</text><text x="264.15" y="285.68">1.4</text><text x="274.65" y="285.68">1.1</text><text x="285.15" y="285.68">1.6</text><text x="222.15" y="296.20">100</text><text x="232.65" y="296.20">88.1</text><text x="243.15" y="296.20">1.9</text><text x="253.65" y="296.20">1.6</text><text x="264.15" y="296.20">1.4</text><text x="274.65" y="296.20">1.3</text><text x="285.15" y="296.20">1.6</text><text x="232.65" y="306.73">100</text><text x="243.15" y="306.73">1.6</text><text x="253.65" y="306.73">1.7</text><text x="264.15" y="306.73">1.7</text><text x="274.65" y="306.73">1.4</text><text x="285.15" y="306.73">1.6</text><text x="243.15" y="317.26">100</text><text x="253.65" y="317.26">43.6</text><text x="264.15" y="317.26">37.2</text><text x="274.65" y="317.26">38.1</text><text x="285.15" y="317.26">38.1</text><text x="253.65" y="327.80">100</text><text x="264.15" y="327.80">52.6</text><text x="274.65" y="327.80">53.2</text><text x="285.15" y="327.80">56.8</text><text x="264.15" y="338.32">100</text><text x="274.65" y="338.32">74.7</text><text x="285.15" y="338.32">74.2</text><text x="274.65" y="348.85">100</text><text x="285.15" y="348.85">87.9</text><text x="285.15" y="359.38">100</text></g>
<g font-size="2.0" text-anchor="middle" fill="#000" fill-opacity="0.5" font-weight="bold"><text x="33.15" y="113.03">1.00</text><text x="33.15" y="116.55">0.96</text><text x="33.15" y="120.06">1.00</text><text x="33.15" y="123.56">1.00</text><text x="33.15" y="127.08">0.98</text><text x="33.15" y="130.59">1.00</text><text x="43.65" y="123.56">1.00</text><text x="43.65" y="127.08">0.98</text><text x="43.65" y="130.59">1.00</text><text x="33.15" y="134.09">0.03</text><text x="33.15" y="137.60">0.81</text><text x="33.15" y="141.12">0.04</text><text x="43.65" y="134.09">0.03</text><text x="43.65" y="137.60">0.85</text><text x="43.65" y="141.12">0.04</text><text x="54.15" y="134.09">0.03</text><text x="54.15" y="137.60">0.83</text><text x="54.15" y="141.12">0.04</text><text x="33.15" y="144.62">0.03</text><text x="33.15" y="148.13">0.81</text><text x="33.15" y="151.65">0.04</text><text x="43.65" y="144.62">0.04</text><text x="43.65" y="148.13">0.85</text><text x="43.65" y="151.65">0.05</text><text x="54.15" y="144.62">0.03</text><text x="54.15" y="148.13">0.83</text><text x="54.15" y="151.65">0.04</text><text x="64.65" y="144.62">1.00</text><text x="64.65" y="148.13">1.00</text><text x="64.65" y="151.65">1.00</text><text x="33.15" y="155.16">0.05</text><text x="33.15" y="158.66">0.98</text><text x="33.15" y="162.18">0.06</text><text x="43.65" y="155.16">0.04</text><text x="43.65" y="158.66">0.94</text><text x="43.65" y="162.18">0.05</text><text x="54.15" y="155.16">0.04</text><text x="54.15" y="158.66">0.96</text><text x="54.15" y="162.18">0.05</text><text x="64.65" y="155.16">0.29</text><text x="64.65" y="158.66">0.80</text><text x="64.65" y="162.18">0.30</text><text x="75.15" y="155.16">0.28</text><text x="75.15" y="158.66">0.80</text><text x="75.15" y="162.18">0.29</text><text x="33.15" y="165.68">0.04</text><text x="33.15" y="169.19">0.95</text><text x="33.15" y="172.70">0.05</text><text x="43.65" y="165.68">0.04</text><text x="43.65" y="169.19">0.91</text><text x="43.65" y="172.70">0.05</text><text x="54.15" y="165.68">0.04</text><text x="54.15" y="169.19">0.93</text><text x="54.15" y="172.70">0.05</text><text x="64.65" y="165.68">0.27</text><text x="64.65" y="169.19">0.77</text><text x="64.65" y="172.70">0.28</text><text x="75.15" y="165.68">0.27</text><text x="75.15" y="169.19">0.77</text><text x="75.15" y="172.70">0.28</text><text x="85.65" y="165.68">0.40</text><text x="85.65" y="169.19">0.97</text><text x="85.65" y="172.70">0.41</text><text x="33.15" y="176.22">0.03</text><text x="33.15" y="179.72">0.93</text><text x="33.15" y="183.24">0.04</text><text x="43.65" y="176.22">0.03</text><text x="43.65" y="179.72">0.89</text><text x="43.65" y="183.24">0.04</text><text x="54.15" y="176.22">0.03</text><text x="54.15" y="179.72">0.91</text><text x="54.15" y="183.24">0.04</text><text x="64.65" y="176.22">0.30</text><text x="64.65" y="179.72">0.76</text><text x="64.65" y="183.24">0.31</text><text x="75.15" y="176.22">0.29</text><text x="75.15" y="179.72">0.76</text><text x="75.15" y="183.24">0.30</text><text x="85.65" y="176.22">0.36</text><text x="85.65" y="179.72">0.95</text><text x="85.65" y="183.24">0.37</text><text x="96.15" y="176.22">1.00</text><text x="96.15" y="179.72">0.98</text><text x="96.15" y="183.24">1.00</text><text x="33.15" y="186.74">0.05</text><text x="33.15" y="190.25">0.95</text><text x="33.15" y="193.76">0.06</text><text x="43.65" y="186.74">0.05</text><text x="43.65" y="190.25">0.91</text><text x="43.65" y="193.76">0.06</text><text x="54.15" y="186.74">0.05</text><text x="54.15" y="190.25">0.93</text><text x="54.15" y="193.76">0.06</text><text x="64.65" y="186.74">0.30</text><text x="64.65" y="190.25">0.77</text><text x="64.65" y="193.76">0.31</text><text x="75.15" y="186.74">0.30</text><text x="75.15" y="190.25">0.77</text><text x="75.15" y="193.76">0.31</text><text x="85.65" y="186.74">0.39</text><text x="85.65" y="190.25">0.97</text><text x="85.65" y="193.76">0.40</text><text x="96.15" y="186.74">0.99</text><text x="96.15" y="190.25">1.00</text><text x="96.15" y="193.76">1.00</text><text x="106.65" y="186.74">1.00</text><text x="106.65" y="190.25">0.98</text><text x="106.65" y="193.76">1.00</text><text x="33.15" y="197.28">0.03</text><text x="33.15" y="200.78">0.97</text><text x="33.15" y="204.30">0.04</text><text x="43.65" y="197.28">0.03</text><text x="43.65" y="200.78">0.93</text><text x="43.65" y="204.30">0.04</text><text x="54.15" y="197.28">0.03</text><text x="54.15" y="200.78">0.95</text><text x="54.15" y="204.30">0.04</text><text x="64.65" y="197.28">0.05</text><text x="64.65" y="200.78">0.79</text><text x="64.65" y="204.30">0.06</text><text x="75.15" y="197.28">0.04</text><text x="75.15" y="200.78">0.79</text><text x="75.15" y="204.30">0.05</text><text x="85.65" y="197.28">0.05</text><text x="85.65" y="200.78">0.99</text><text x="85.65" y="204.30">0.06</text><text x="96.15" y="197.28">0.04</text><text x="96.15" y="200.78">0.98</text><text x="96.15" y="204.30">0.05</text><text x="106.65" y="197.28">0.05</text><text x="106.65" y="200.78">0.96</text><text x="106.65" y="204.30">0.06</text><text x="117.15" y="197.28">0.04</text><text x="117.15" y="200.78">0.98</text><text x="117.15" y="204.30">0.05</text><text x="33.15" y="207.80">0.05</text><text x="33.15" y="211.31">0.94</text><text x="33.15" y="214.82">0.06</text><text x="43.65" y="207.80">0.05</text><text x="43.65" y="211.31">0.98</text><text x="43.65" y="214.82">0.06</text><text x="54.15" y="207.80">0.05</text><text x="54.15" y="211.31">0.96</text><text x="54.15" y="214.82">0.06</text><text x="64.65" y="207.80">0.11</text><text x="64.65" y="211.31">0.87</text><text x="64.65" y="214.82">0.12</text><text x="75.15" y="207.80">0.11</text><text x="75.15" y="211.31">0.87</text><text x="75.15" y="214.82">0.12</text><text x="85.65" y="207.80">0.11</text><text x="85.65" y="211.31">0.92</text><text x="85.65" y="214.82">0.12</text><text x="96.15" y="207.80">0.11</text><text x="96.15" y="211.31">0.89</text><text x="96.15" y="214.82">0.12</text><text x="106.65" y="207.80">0.10</text><text x="106.65" y="211.31">0.87</text><text x="106.65" y="214.82">0.11</text><text x="117.15" y="207.80">0.10</text><text x="117.15" y="211.31">0.89</text><text x="117.15" y="214.82">0.11</text><text x="127.65" y="207.80">0.09</text><text x="127.65" y="211.31">0.91</text><text x="127.65" y="214.82">0.10</text><text x="33.15" y="218.34">0.04</text><text x="33.15" y="221.84">0.84</text><text x="33.15" y="225.36">0.05</text><text x="43.65" y="218.34">0.04</text><text x="43.65" y="221.84">0.88</text><text x="43.65" y="225.36">0.05</text><text x="54.15" y="218.34">0.03</text><text x="54.15" y="221.84">0.86</text><text x="54.15" y="225.36">0.04</text><text x="64.65" y="218.34">0.10</text><text x="64.65" y="221.84">0.96</text><text x="64.65" y="225.36">0.11</text><text x="75.15" y="218.34">0.09</text><text x="75.15" y="221.84">0.96</text><text x="75.15" y="225.36">0.10</text><text x="85.65" y="218.34">0.11</text><text x="85.65" y="221.84">0.83</text><text x="85.65" y="225.36">0.12</text><text x="96.15" y="218.34">0.09</text><text x="96.15" y="221.84">0.80</text><text x="96.15" y="225.36">0.10</text><text x="106.65" y="218.34">0.08</text><text x="106.65" y="221.84">0.79</text><text x="106.65" y="225.36">0.09</text><text x="117.15" y="218.34">0.07</text><text x="117.15" y="221.84">0.80</text><text x="117.15" y="225.36">0.08</text><text x="127.65" y="218.34">0.07</text><text x="127.65" y="221.84">0.82</text><text x="127.65" y="225.36">0.08</text><text x="138.15" y="218.34">0.22</text><text x="138.15" y="221.84">0.90</text><text x="138.15" y="225.36">0.23</text><text x="33.15" y="228.86">0.05</text><text x="33.15" y="232.37">0.64</text><text x="33.15" y="235.88">0.06</text><text x="43.65" y="228.86">0.06</text><text x="43.65" y="232.37">0.67</text><text x="43.65" y="235.88">0.07</text><text x="54.15" y="228.86">0.05</text><text x="54.15" y="232.37">0.65</text><text x="54.15" y="235.88">0.06</text><text x="64.65" y="228.86">0.06</text><text x="64.65" y="232.37">0.79</text><text x="64.65" y="235.88">0.07</text><text x="75.15" y="228.86">0.05</text><text x="75.15" y="232.37">0.79</text><text x="75.15" y="235.88">0.06</text><text x="85.65" y="228.86">0.06</text><text x="85.65" y="232.37">0.63</text><text x="85.65" y="235.88">0.07</text><text x="96.15" y="228.86">0.05</text><text x="96.15" y="232.37">0.61</text><text x="96.15" y="235.88">0.06</text><text x="106.65" y="228.86">0.04</text><text x="106.65" y="232.37">0.60</text><text x="106.65" y="235.88">0.05</text><text x="117.15" y="228.86">0.05</text><text x="117.15" y="232.37">0.61</text><text x="117.15" y="235.88">0.06</text><text x="127.65" y="228.86">0.06</text><text x="127.65" y="232.37">0.62</text><text x="127.65" y="235.88">0.07</text><text x="138.15" y="228.86">0.18</text><text x="138.15" y="232.37">0.68</text><text x="138.15" y="235.88">0.19</text><text x="148.65" y="228.86">0.13</text><text x="148.65" y="232.37">0.76</text><text x="148.65" y="235.88">0.14</text><text x="33.15" y="239.39">0.04</text><text x="33.15" y="242.90">0.68</text><text x="33.15" y="246.41">0.05</text><text x="43.65" y="239.39">0.05</text><text x="43.65" y="242.90">0.71</text><text x="43.65" y="246.41">0.06</text><text x="54.15" y="239.39">0.05</text><text x="54.15" y="242.90">0.70</text><text x="54.15" y="246.41">0.06</text><text x="64.65" y="239.39">0.08</text><text x="64.65" y="242.90">0.84</text><text x="64.65" y="246.41">0.09</text><text x="75.15" y="239.39">0.07</text><text x="75.15" y="242.90">0.84</text><text x="75.15" y="246.41">0.08</text><text x="85.65" y="239.39">0.07</text><text x="85.65" y="242.90">0.67</text><text x="85.65" y="246.41">0.08</text><text x="96.15" y="239.39">0.08</text><text x="96.15" y="242.90">0.65</text><text x="96.15" y="246.41">0.09</text><text x="106.65" y="239.39">0.08</text><text x="106.65" y="242.90">0.64</text><text x="106.65" y="246.41">0.09</text><text x="117.15" y="239.39">0.08</text><text x="117.15" y="242.90">0.65</text><text x="117.15" y="246.41">0.09</text><text x="127.65" y="239.39">0.06</text><text x="127.65" y="242.90">0.66</text><text x="127.65" y="246.41">0.07</text><text x="138.15" y="239.39">0.20</text><text x="138.15" y="242.90">0.73</text><text x="138.15" y="246.41">0.21</text><text x="148.65" y="239.39">0.14</text><text x="148.65" y="242.90">0.81</text><text x="148.65" y="246.41">0.15</text><text x="159.15" y="239.39">0.20</text><text x="159.15" y="242.90">0.94</text><text x="159.15" y="246.41">0.21</text><text x="33.15" y="249.92">0.11</text><text x="33.15" y="253.43">0.93</text><text x="33.15" y="256.94">0.12</text><text x="43.65" y="249.92">0.10</text><text x="43.65" y="253.43">0.89</text><text x="43.65" y="256.94">0.11</text><text x="54.15" y="249.92">0.11</text><text x="54.15" y="253.43">0.91</text><text x="54.15" y="256.94">0.12</text><text x="64.65" y="249.92">0.06</text><text x="64.65" y="253.43">0.76</text><text x="64.65" y="256.94">0.07</text><text x="75.15" y="249.92">0.07</text><text x="75.15" y="253.43">0.76</text><text x="75.15" y="256.94">0.08</text><text x="85.65" y="249.92">0.10</text><text x="85.65" y="253.43">0.95</text><text x="85.65" y="256.94">0.11</text><text x="96.15" y="249.92">0.09</text><text x="96.15" y="253.43">0.98</text><text x="96.15" y="256.94">0.10</text><text x="106.65" y="249.92">0.06</text><text x="106.65" y="253.43">1.00</text><text x="106.65" y="256.94">0.07</text><text x="117.15" y="249.92">0.08</text><text x="117.15" y="253.43">0.98</text><text x="117.15" y="256.94">0.09</text><text x="127.65" y="249.92">0.08</text><text x="127.65" y="253.43">0.96</text><text x="127.65" y="256.94">0.09</text><text x="138.15" y="249.92">0.24</text><text x="138.15" y="253.43">0.87</text><text x="138.15" y="256.94">0.25</text><text x="148.65" y="249.92">0.17</text><text x="148.65" y="253.43">0.79</text><text x="148.65" y="256.94">0.18</text><text x="159.15" y="249.92">0.17</text><text x="159.15" y="253.43">0.60</text><text x="159.15" y="256.94">0.18</text><text x="169.65" y="249.92">0.22</text><text x="169.65" y="253.43">0.64</text><text x="169.65" y="256.94">0.23</text><text x="33.15" y="260.45">0.06</text><text x="33.15" y="263.96">0.94</text><text x="33.15" y="267.47">0.07</text><text x="43.65" y="260.45">0.06</text><text x="43.65" y="263.96">0.90</text><text x="43.65" y="267.47">0.07</text><text x="54.15" y="260.45">0.05</text><text x="54.15" y="263.96">0.92</text><text x="54.15" y="267.47">0.06</text><text x="64.65" y="260.45">0.07</text><text x="64.65" y="263.96">0.76</text><text x="64.65" y="267.47">0.08</text><text x="75.15" y="260.45">0.07</text><text x="75.15" y="263.96">0.76</text><text x="75.15" y="267.47">0.08</text><text x="85.65" y="260.45">0.09</text><text x="85.65" y="263.96">0.96</text><text x="85.65" y="267.47">0.10</text><text x="96.15" y="260.45">0.09</text><text x="96.15" y="263.96">0.99</text><text x="96.15" y="267.47">0.10</text><text x="106.65" y="260.45">0.06</text><text x="106.65" y="263.96">0.99</text><text x="106.65" y="267.47">0.07</text><text x="117.15" y="260.45">0.08</text><text x="117.15" y="263.96">0.99</text><text x="117.15" y="267.47">0.09</text><text x="127.65" y="260.45">0.08</text><text x="127.65" y="263.96">0.97</text><text x="127.65" y="267.47">0.09</text><text x="138.15" y="260.45">0.24</text><text x="138.15" y="263.96">0.88</text><text x="138.15" y="267.47">0.25</text><text x="148.65" y="260.45">0.18</text><text x="148.65" y="263.96">0.79</text><text x="148.65" y="267.47">0.19</text><text x="159.15" y="260.45">0.27</text><text x="159.15" y="263.96">0.60</text><text x="159.15" y="267.47">0.28</text><text x="169.65" y="260.45">0.25</text><text x="169.65" y="263.96">0.64</text><text x="169.65" y="267.47">0.26</text><text x="180.15" y="260.45">0.32</text><text x="180.15" y="263.96">0.99</text><text x="180.15" y="267.47">0.33</text><text x="33.15" y="270.98">0.02</text><text x="33.15" y="274.49">0.72</text><text x="33.15" y="278.00">0.03</text><text x="43.65" y="270.98">0.01</text><text x="43.65" y="274.49">0.75</text><text x="43.65" y="278.00">0.02</text><text x="54.15" y="270.98">0.02</text><text x="54.15" y="274.49">0.74</text><text x="54.15" y="278.00">0.03</text><text x="64.65" y="270.98">0.05</text><text x="64.65" y="274.49">0.89</text><text x="64.65" y="278.00">0.06</text><text x="75.15" y="270.98">0.05</text><text x="75.15" y="274.49">0.89</text><text x="75.15" y="278.00">0.06</text><text x="85.65" y="270.98">0.02</text><text x="85.65" y="274.49">0.71</text><text x="85.65" y="278.00">0.03</text><text x="96.15" y="270.98">0.02</text><text x="96.15" y="274.49">0.69</text><text x="96.15" y="278.00">0.03</text><text x="106.65" y="270.98">0.04</text><text x="106.65" y="274.49">0.67</text><text x="106.65" y="278.00">0.05</text><text x="117.15" y="270.98">0.02</text><text x="117.15" y="274.49">0.69</text><text x="117.15" y="278.00">0.03</text><text x="127.65" y="270.98">0.04</text><text x="127.65" y="274.49">0.70</text><text x="127.65" y="278.00">0.05</text><text x="138.15" y="270.98">0.06</text><text x="138.15" y="274.49">0.77</text><text x="138.15" y="278.00">0.07</text><text x="148.65" y="270.98">0.02</text><text x="148.65" y="274.49">0.85</text><text x="148.65" y="278.00">0.03</text><text x="159.15" y="270.98">0.02</text><text x="159.15" y="274.49">0.89</text><text x="159.15" y="278.00">0.03</text><text x="169.65" y="270.98">0.04</text><text x="169.65" y="274.49">0.95</text><text x="169.65" y="278.00">0.05</text><text x="180.15" y="270.98">0.03</text><text x="180.15" y="274.49">0.67</text><text x="180.15" y="278.00">0.04</text><text x="190.65" y="270.98">0.03</text><text x="190.65" y="274.49">0.68</text><text x="190.65" y="278.00">0.04</text><text x="33.15" y="281.51">0.01</text><text x="33.15" y="285.02">0.62</text><text x="33.15" y="288.53">0.02</text><text x="43.65" y="281.51">0.02</text><text x="43.65" y="285.02">0.65</text><text x="43.65" y="288.53">0.03</text><text x="54.15" y="281.51">0.01</text><text x="54.15" y="285.02">0.64</text><text x="54.15" y="288.53">0.02</text><text x="64.65" y="281.51">0.02</text><text x="64.65" y="285.02">0.77</text><text x="64.65" y="288.53">0.03</text><text x="75.15" y="281.51">0.02</text><text x="75.15" y="285.02">0.77</text><text x="75.15" y="288.53">0.03</text><text x="85.65" y="281.51">0.01</text><text x="85.65" y="285.02">0.61</text><text x="85.65" y="288.53">0.02</text><text x="96.15" y="281.51">0.02</text><text x="96.15" y="285.02">0.59</text><text x="96.15" y="288.53">0.03</text><text x="106.65" y="281.51">0.02</text><text x="106.65" y="285.02">0.58</text><text x="106.65" y="288.53">0.03</text><text x="117.15" y="281.51">0.02</text><text x="117.15" y="285.02">0.59</text><text x="117.15" y="288.53">0.03</text><text x="127.65" y="281.51">0.05</text><text x="127.65" y="285.02">0.60</text><text x="127.65" y="288.53">0.06</text><text x="138.15" y="281.51">0.03</text><text x="138.15" y="285.02">0.67</text><text x="138.15" y="288.53">0.04</text><text x="148.65" y="281.51">0.02</text><text x="148.65" y="285.02">0.74</text><text x="148.65" y="288.53">0.03</text><text x="159.15" y="281.51">0.02</text><text x="159.15" y="285.02">0.97</text><text x="159.15" y="288.53">0.03</text><text x="169.65" y="281.51">0.02</text><text x="169.65" y="285.02">0.91</text><text x="169.65" y="288.53">0.03</text><text x="180.15" y="281.51">0.02</text><text x="180.15" y="285.02">0.58</text><text x="180.15" y="288.53">0.03</text><text x="190.65" y="281.51">0.02</text><text x="190.65" y="285.02">0.59</text><text x="190.65" y="288.53">0.03</text><text x="201.15" y="281.51">0.01</text><text x="201.15" y="285.02">0.86</text><text x="201.15" y="288.53">0.02</text><text x="33.15" y="292.04">0.02</text><text x="33.15" y="295.55">0.61</text><text x="33.15" y="299.06">0.03</text><text x="43.65" y="292.04">0.02</text><text x="43.65" y="295.55">0.64</text><text x="43.65" y="299.06">0.03</text><text x="54.15" y="292.04">0.02</text><text x="54.15" y="295.55">0.62</text><text x="54.15" y="299.06">0.03</text><text x="64.65" y="292.04">0.02</text><text x="64.65" y="295.55">0.75</text><text x="64.65" y="299.06">0.03</text><text x="75.15" y="292.04">0.02</text><text x="75.15" y="295.55">0.75</text><text x="75.15" y="299.06">0.03</text><text x="85.65" y="292.04">0.02</text><text x="85.65" y="295.55">0.60</text><text x="85.65" y="299.06">0.03</text><text x="96.15" y="292.04">0.02</text><text x="96.15" y="295.55">0.58</text><text x="96.15" y="299.06">0.03</text><text x="106.65" y="292.04">0.02</text><text x="106.65" y="295.55">0.57</text><text x="106.65" y="299.06">0.03</text><text x="117.15" y="292.04">0.02</text><text x="117.15" y="295.55">0.58</text><text x="117.15" y="299.06">0.03</text><text x="127.65" y="292.04">0.06</text><text x="127.65" y="295.55">0.59</text><text x="127.65" y="299.06">0.07</text><text x="138.15" y="292.04">0.04</text><text x="138.15" y="295.55">0.65</text><text x="138.15" y="299.06">0.05</text><text x="148.65" y="292.04">0.03</text><text x="148.65" y="295.55">0.72</text><text x="148.65" y="299.06">0.04</text><text x="159.15" y="292.04">0.03</text><text x="159.15" y="295.55">0.95</text><text x="159.15" y="299.06">0.04</text><text x="169.65" y="292.04">0.02</text><text x="169.65" y="295.55">0.89</text><text x="169.65" y="299.06">0.03</text><text x="180.15" y="292.04">0.02</text><text x="180.15" y="295.55">0.57</text><text x="180.15" y="299.06">0.03</text><text x="190.65" y="292.04">0.03</text><text x="190.65" y="295.55">0.57</text><text x="190.65" y="299.06">0.04</text><text x="201.15" y="292.04">0.03</text><text x="201.15" y="295.55">0.85</text><text x="201.15" y="299.06">0.04</text><text x="211.65" y="292.04">0.67</text><text x="211.65" y="295.55">0.98</text><text x="211.65" y="299.06">0.68</text><text x="33.15" y="302.57">0.02</text><text x="33.15" y="306.08">0.61</text><text x="33.15" y="309.59">0.03</text><text x="43.65" y="302.57">0.02</text><text x="43.65" y="306.08">0.64</text><text x="43.65" y="309.59">0.03</text><text x="54.15" y="302.57">0.02</text><text x="54.15" y="306.08">0.62</text><text x="54.15" y="309.59">0.03</text><text x="64.65" y="302.57">0.02</text><text x="64.65" y="306.08">0.75</text><text x="64.65" y="309.59">0.03</text><text x="75.15" y="302.57">0.03</text><text x="75.15" y="306.08">0.75</text><text x="75.15" y="309.59">0.04</text><text x="85.65" y="302.57">0.03</text><text x="85.65" y="306.08">0.60</text><text x="85.65" y="309.59">0.04</text><text x="96.15" y="302.57">0.01</text><text x="96.15" y="306.08">1.00</text><text x="96.15" y="309.59">0.02</text><text x="106.65" y="302.57">0.02</text><text x="106.65" y="306.08">0.57</text><text x="106.65" y="309.59">0.03</text><text x="117.15" y="302.57">0.02</text><text x="117.15" y="306.08">0.58</text><text x="117.15" y="309.59">0.03</text><text x="127.65" y="302.57">0.06</text><text x="127.65" y="306.08">0.59</text><text x="127.65" y="309.59">0.07</text><text x="138.15" y="302.57">0.05</text><text x="138.15" y="306.08">0.65</text><text x="138.15" y="309.59">0.06</text><text x="148.65" y="302.57">0.02</text><text x="148.65" y="306.08">0.72</text><text x="148.65" y="309.59">0.03</text><text x="159.15" y="302.57">0.03</text><text x="159.15" y="306.08">0.95</text><text x="159.15" y="309.59">0.04</text><text x="169.65" y="302.57">0.03</text><text x="169.65" y="306.08">0.89</text><text x="169.65" y="309.59">0.04</text><text x="180.15" y="302.57">0.03</text><text x="180.15" y="306.08">0.57</text><text x="180.15" y="309.59">0.04</text><text x="190.65" y="302.57">0.03</text><text x="190.65" y="306.08">0.57</text><text x="190.65" y="309.59">0.04</text><text x="201.15" y="302.57">0.02</text><text x="201.15" y="306.08">0.85</text><text x="201.15" y="309.59">0.03</text><text x="211.65" y="302.57">0.67</text><text x="211.65" y="306.08">0.98</text><text x="211.65" y="309.59">0.68</text><text x="222.15" y="302.57">1.00</text><text x="222.15" y="306.08">1.00</text><text x="222.15" y="309.59">1.00</text><text x="33.15" y="313.10">0.02</text><text x="33.15" y="316.61">0.56</text><text x="33.15" y="320.12">0.03</text><text x="43.65" y="313.10">0.01</text><text x="43.65" y="316.61">0.58</text><text x="43.65" y="320.12">0.02</text><text x="54.15" y="313.10">0.01</text><text x="54.15" y="316.61">0.57</text><text x="54.15" y="320.12">0.02</text><text x="64.65" y="313.10">0.02</text><text x="64.65" y="316.61">0.69</text><text x="64.65" y="320.12">0.03</text><text x="75.15" y="313.10">0.02</text><text x="75.15" y="316.61">0.69</text><text x="75.15" y="320.12">0.03</text><text x="85.65" y="313.10">0.01</text><text x="85.65" y="316.61">0.55</text><text x="85.65" y="320.12">0.02</text><text x="96.15" y="313.10">0.02</text><text x="96.15" y="316.61">0.53</text><text x="96.15" y="320.12">0.03</text><text x="106.65" y="313.10">0.02</text><text x="106.65" y="316.61">0.52</text><text x="106.65" y="320.12">0.03</text><text x="117.15" y="313.10">0.02</text><text x="117.15" y="316.61">0.53</text><text x="117.15" y="320.12">0.03</text><text x="127.65" y="313.10">0.02</text><text x="127.65" y="316.61">0.54</text><text x="127.65" y="320.12">0.03</text><text x="138.15" y="313.10">0.02</text><text x="138.15" y="316.61">0.60</text><text x="138.15" y="320.12">0.03</text><text x="148.65" y="313.10">0.02</text><text x="148.65" y="316.61">0.66</text><text x="148.65" y="320.12">0.03</text><text x="159.15" y="313.10">0.02</text><text x="159.15" y="316.61">0.87</text><text x="159.15" y="320.12">0.03</text><text x="169.65" y="313.10">0.02</text><text x="169.65" y="316.61">0.82</text><text x="169.65" y="320.12">0.03</text><text x="180.15" y="313.10">0.02</text><text x="180.15" y="316.61">0.52</text><text x="180.15" y="320.12">0.03</text><text x="190.65" y="313.10">0.01</text><text x="190.65" y="316.61">1.00</text><text x="190.65" y="320.12">0.02</text><text x="201.15" y="313.10">0.02</text><text x="201.15" y="316.61">0.78</text><text x="201.15" y="320.12">0.03</text><text x="211.65" y="313.10">0.04</text><text x="211.65" y="316.61">0.90</text><text x="211.65" y="320.12">0.05</text><text x="222.15" y="313.10">0.06</text><text x="222.15" y="316.61">0.92</text><text x="222.15" y="320.12">0.07</text><text x="232.65" y="313.10">0.06</text><text x="232.65" y="316.61">0.92</text><text x="232.65" y="320.12">0.07</text><text x="33.15" y="323.63">0.01</text><text x="33.15" y="327.14">0.58</text><text x="33.15" y="330.65">0.02</text><text x="43.65" y="323.63">0.01</text><text x="43.65" y="327.14">0.61</text><text x="43.65" y="330.65">0.02</text><text x="54.15" y="323.63">0.01</text><text x="54.15" y="327.14">0.59</text><text x="54.15" y="330.65">0.02</text><text x="64.65" y="323.63">0.02</text><text x="64.65" y="327.14">0.71</text><text x="64.65" y="330.65">0.03</text><text x="75.15" y="323.63">0.02</text><text x="75.15" y="327.14">0.71</text><text x="75.15" y="330.65">0.03</text><text x="85.65" y="323.63">0.02</text><text x="85.65" y="327.14">0.57</text><text x="85.65" y="330.65">0.03</text><text x="96.15" y="323.63">0.01</text><text x="96.15" y="327.14">0.55</text><text x="96.15" y="330.65">0.02</text><text x="106.65" y="323.63">0.02</text><text x="106.65" y="327.14">0.54</text><text x="106.65" y="330.65">0.03</text><text x="117.15" y="323.63">0.02</text><text x="117.15" y="327.14">0.55</text><text x="117.15" y="330.65">0.03</text><text x="127.65" y="323.63">0.03</text><text x="127.65" y="327.14">0.56</text><text x="127.65" y="330.65">0.04</text><text x="138.15" y="323.63">0.02</text><text x="138.15" y="327.14">0.62</text><text x="138.15" y="330.65">0.03</text><text x="148.65" y="323.63">0.02</text><text x="148.65" y="327.14">0.69</text><text x="148.65" y="330.65">0.03</text><text x="159.15" y="323.63">0.02</text><text x="159.15" y="327.14">0.91</text><text x="159.15" y="330.65">0.03</text><text x="169.65" y="323.63">0.02</text><text x="169.65" y="327.14">0.85</text><text x="169.65" y="330.65">0.03</text><text x="180.15" y="323.63">0.02</text><text x="180.15" y="327.14">0.54</text><text x="180.15" y="330.65">0.03</text><text x="190.65" y="323.63">0.02</text><text x="190.65" y="327.14">0.55</text><text x="190.65" y="330.65">0.03</text><text x="201.15" y="323.63">0.02</text><text x="201.15" y="327.14">0.81</text><text x="201.15" y="330.65">0.03</text><text x="211.65" y="323.63">0.05</text><text x="211.65" y="327.14">0.93</text><text x="211.65" y="330.65">0.06</text><text x="222.15" y="323.63">0.06</text><text x="222.15" y="327.14">0.95</text><text x="222.15" y="330.65">0.07</text><text x="232.65" y="323.63">0.06</text><text x="232.65" y="327.14">0.95</text><text x="232.65" y="330.65">0.07</text><text x="243.15" y="323.63">0.68</text><text x="243.15" y="327.14">0.96</text><text x="243.15" y="330.65">0.69</text><text x="33.15" y="334.16">0.02</text><text x="33.15" y="337.67">0.53</text><text x="33.15" y="341.18">0.03</text><text x="43.65" y="334.16">0.02</text><text x="43.65" y="337.67">0.55</text><text x="43.65" y="341.18">0.03</text><text x="54.15" y="334.16">0.02</text><text x="54.15" y="337.67">0.54</text><text x="54.15" y="341.18">0.03</text><text x="64.65" y="334.16">0.02</text><text x="64.65" y="337.67">0.65</text><text x="64.65" y="341.18">0.03</text><text x="75.15" y="334.16">0.02</text><text x="75.15" y="337.67">0.65</text><text x="75.15" y="341.18">0.03</text><text x="85.65" y="334.16">0.01</text><text x="85.65" y="337.67">1.00</text><text x="85.65" y="341.18">0.02</text><text x="96.15" y="334.16">0.02</text><text x="96.15" y="337.67">0.50</text><text x="96.15" y="341.18">0.03</text><text x="106.65" y="334.16">0.02</text><text x="106.65" y="337.67">0.49</text><text x="106.65" y="341.18">0.03</text><text x="117.15" y="334.16">0.02</text><text x="117.15" y="337.67">0.50</text><text x="117.15" y="341.18">0.03</text><text x="127.65" y="334.16">0.03</text><text x="127.65" y="337.67">0.51</text><text x="127.65" y="341.18">0.04</text><text x="138.15" y="334.16">0.02</text><text x="138.15" y="337.67">0.56</text><text x="138.15" y="341.18">0.03</text><text x="148.65" y="334.16">0.02</text><text x="148.65" y="337.67">0.62</text><text x="148.65" y="341.18">0.03</text><text x="159.15" y="334.16">0.03</text><text x="159.15" y="337.67">0.82</text><text x="159.15" y="341.18">0.04</text><text x="169.65" y="334.16">0.02</text><text x="169.65" y="337.67">0.77</text><text x="169.65" y="341.18">0.03</text><text x="180.15" y="334.16">0.01</text><text x="180.15" y="337.67">1.00</text><text x="180.15" y="341.18">0.02</text><text x="190.65" y="334.16">0.02</text><text x="190.65" y="337.67">0.49</text><text x="190.65" y="341.18">0.03</text><text x="201.15" y="334.16">0.02</text><text x="201.15" y="337.67">0.73</text><text x="201.15" y="341.18">0.03</text><text x="211.65" y="334.16">0.05</text><text x="211.65" y="337.67">0.84</text><text x="211.65" y="341.18">0.06</text><text x="222.15" y="334.16">0.05</text><text x="222.15" y="337.67">0.86</text><text x="222.15" y="341.18">0.06</text><text x="232.65" y="334.16">0.06</text><text x="232.65" y="337.67">0.86</text><text x="232.65" y="341.18">0.07</text><text x="243.15" y="334.16">0.60</text><text x="243.15" y="337.67">0.94</text><text x="243.15" y="341.18">0.61</text><text x="253.65" y="334.16">0.79</text><text x="253.65" y="337.67">0.91</text><text x="253.65" y="341.18">0.80</text><text x="33.15" y="344.69">0.02</text><text x="33.15" y="348.20">0.58</text><text x="33.15" y="351.71">0.03</text><text x="43.65" y="344.69">0.02</text><text x="43.65" y="348.20">0.61</text><text x="43.65" y="351.71">0.03</text><text x="54.15" y="344.69">0.02</text><text x="54.15" y="348.20">0.59</text><text x="54.15" y="351.71">0.03</text><text x="64.65" y="344.69">0.02</text><text x="64.65" y="348.20">0.71</text><text x="64.65" y="351.71">0.03</text><text x="75.15" y="344.69">0.01</text><text x="75.15" y="348.20">0.71</text><text x="75.15" y="351.71">0.02</text><text x="85.65" y="344.69">0.02</text><text x="85.65" y="348.20">0.57</text><text x="85.65" y="351.71">0.03</text><text x="96.15" y="344.69">0.02</text><text x="96.15" y="348.20">0.55</text><text x="96.15" y="351.71">0.03</text><text x="106.65" y="344.69">0.02</text><text x="106.65" y="348.20">0.54</text><text x="106.65" y="351.71">0.03</text><text x="117.15" y="344.69">0.02</text><text x="117.15" y="348.20">0.55</text><text x="117.15" y="351.71">0.03</text><text x="127.65" y="344.69">0.03</text><text x="127.65" y="348.20">0.56</text><text x="127.65" y="351.71">0.04</text><text x="138.15" y="344.69">0.02</text><text x="138.15" y="348.20">0.62</text><text x="138.15" y="351.71">0.03</text><text x="148.65" y="344.69">0.02</text><text x="148.65" y="348.20">0.69</text><text x="148.65" y="351.71">0.03</text><text x="159.15" y="344.69">0.03</text><text x="159.15" y="348.20">0.91</text><text x="159.15" y="351.71">0.04</text><text x="169.65" y="344.69">0.02</text><text x="169.65" y="348.20">0.85</text><text x="169.65" y="351.71">0.03</text><text x="180.15" y="344.69">0.02</text><text x="180.15" y="348.20">0.54</text><text x="180.15" y="351.71">0.03</text><text x="190.65" y="344.69">0.02</text><text x="190.65" y="348.20">0.55</text><text x="190.65" y="351.71">0.03</text><text x="201.15" y="344.69">0.02</text><text x="201.15" y="348.20">0.81</text><text x="201.15" y="351.71">0.03</text><text x="211.65" y="344.69">0.05</text><text x="211.65" y="348.20">0.93</text><text x="211.65" y="351.71">0.06</text><text x="222.15" y="344.69">0.05</text><text x="222.15" y="348.20">0.95</text><text x="222.15" y="351.71">0.06</text><text x="232.65" y="344.69">0.05</text><text x="232.65" y="348.20">0.95</text><text x="232.65" y="351.71">0.06</text><text x="243.15" y="344.69">0.61</text><text x="243.15" y="348.20">0.96</text><text x="243.15" y="351.71">0.62</text><text x="253.65" y="344.69">0.79</text><text x="253.65" y="348.20">1.00</text><text x="253.65" y="351.71">0.80</text><text x="264.15" y="344.69">1.00</text><text x="264.15" y="348.20">0.91</text><text x="264.15" y="351.71">1.00</text><text x="33.15" y="355.22">0.02</text><text x="33.15" y="358.73">0.56</text><text x="33.15" y="362.24">0.03</text><text x="43.65" y="355.22">0.02</text><text x="43.65" y="358.73">0.58</text><text x="43.65" y="362.24">0.03</text><text x="54.15" y="355.22">0.02</text><text x="54.15" y="358.73">0.57</text><text x="54.15" y="362.24">0.03</text><text x="64.65" y="355.22">0.02</text><text x="64.65" y="358.73">0.69</text><text x="64.65" y="362.24">0.03</text><text x="75.15" y="355.22">0.02</text><text x="75.15" y="358.73">0.69</text><text x="75.15" y="362.24">0.03</text><text x="85.65" y="355.22">0.02</text><text x="85.65" y="358.73">0.55</text><text x="85.65" y="362.24">0.03</text><text x="96.15" y="355.22">0.01</text><text x="96.15" y="358.73">0.53</text><text x="96.15" y="362.24">0.02</text><text x="106.65" y="355.22">0.02</text><text x="106.65" y="358.73">0.52</text><text x="106.65" y="362.24">0.03</text><text x="117.15" y="355.22">0.02</text><text x="117.15" y="358.73">0.53</text><text x="117.15" y="362.24">0.03</text><text x="127.65" y="355.22">0.03</text><text x="127.65" y="358.73">0.54</text><text x="127.65" y="362.24">0.04</text><text x="138.15" y="355.22">0.02</text><text x="138.15" y="358.73">0.60</text><text x="138.15" y="362.24">0.03</text><text x="148.65" y="355.22">0.02</text><text x="148.65" y="358.73">0.66</text><text x="148.65" y="362.24">0.03</text><text x="159.15" y="355.22">0.03</text><text x="159.15" y="358.73">0.87</text><text x="159.15" y="362.24">0.04</text><text x="169.65" y="355.22">0.02</text><text x="169.65" y="358.73">0.82</text><text x="169.65" y="362.24">0.03</text><text x="180.15" y="355.22">0.01</text><text x="180.15" y="358.73">1.00</text><text x="180.15" y="362.24">0.02</text><text x="190.65" y="355.22">0.02</text><text x="190.65" y="358.73">0.53</text><text x="190.65" y="362.24">0.03</text><text x="201.15" y="355.22">0.02</text><text x="201.15" y="358.73">0.78</text><text x="201.15" y="362.24">0.03</text><text x="211.65" y="355.22">0.06</text><text x="211.65" y="358.73">0.90</text><text x="211.65" y="362.24">0.07</text><text x="222.15" y="355.22">0.06</text><text x="222.15" y="358.73">0.92</text><text x="222.15" y="362.24">0.07</text><text x="232.65" y="355.22">0.06</text><text x="232.65" y="358.73">0.92</text><text x="232.65" y="362.24">0.07</text><text x="243.15" y="355.22">0.61</text><text x="243.15" y="358.73">1.00</text><text x="243.15" y="362.24">0.62</text><text x="253.65" y="355.22">0.84</text><text x="253.65" y="358.73">0.96</text><text x="253.65" y="362.24">0.85</text><text x="264.15" y="355.22">1.00</text><text x="264.15" y="358.73">0.94</text><text x="264.15" y="362.24">1.00</text><text x="274.65" y="355.22">1.00</text><text x="274.65" y="358.73">0.96</text><text x="274.65" y="362.24">1.00</text></g>
<g font-size="5.9" fill="#111" stroke="#111" stroke-width="0.12"><text x="291.9" y="107.41">BK025033_ctl0Q4</text><text x="291.9" y="117.94">BK046881_ctckW2</text><text x="291.9" y="128.47">phAss-1</text><text x="291.9" y="139.00">BK035610_ctwa024</text><text x="291.9" y="149.53">BK040333_ct0TM7</text><text x="291.9" y="160.06">BK032687_ctZHD14</text><text x="291.9" y="170.59">BK015962_ctnPP24</text><text x="291.9" y="181.12">BK035365_ct70u2</text><text x="291.9" y="191.66">BK037298_ctPL711</text><text x="291.9" y="202.19">MF001358_Enterococcus_phage_EF1</text><text x="291.9" y="212.72">BK027466_ctoEc19</text><text x="291.9" y="223.25">MH552526_ctfj46</text><text x="291.9" y="233.78">BK016678_ctJ0m5</text><text x="291.9" y="244.31">BK032759_ctxMM9</text><text x="291.9" y="254.84">BK048856_ctOa11</text><text x="291.9" y="265.37">BK051641_ctUes22</text><text x="291.9" y="275.89">OQ326496_Enterocloster_phage_PMBT10</text><text x="291.9" y="286.43">NC_055907_Enterococcus_phage_9183</text><text x="291.9" y="296.95">NC_055833_Enterococcus_phage_nattely</text><text x="291.9" y="307.48">NC_055834_Enterococcus_phage_vipetofem</text><text x="291.9" y="318.01">NC_047897_Lactobacillus_phage_Lenus</text><text x="291.9" y="328.55">NC_047739_Lactobacillus_phage_ATCC_8014–B2</text><text x="291.9" y="339.07">NC_047764_Lactobacillus_phage_P1</text><text x="291.9" y="349.60">NC_047918_Lactobacillus_phage_Satyr</text><text x="291.9" y="360.13">NC_047931_Lactobacillus_phage_Maenad</text></g>
<g font-size="5.8" fill="#111" stroke="#111" stroke-width="0.07" text-anchor="end"><text transform="translate(35.25,365.6) rotate(-90)">BK025033_ctl0Q4</text><text transform="translate(45.75,365.6) rotate(-90)">BK046881_ctckW2</text><text transform="translate(56.25,365.6) rotate(-90)">phAss-1</text><text transform="translate(66.75,365.6) rotate(-90)">BK035610_ctwa024</text><text transform="translate(77.25,365.6) rotate(-90)">BK040333_ct0TM7</text><text transform="translate(87.75,365.6) rotate(-90)">BK032687_ctZHD14</text><text transform="translate(98.25,365.6) rotate(-90)">BK015962_ctnPP24</text><text transform="translate(108.75,365.6) rotate(-90)">BK035365_ct70u2</text><text transform="translate(119.25,365.6) rotate(-90)">BK037298_ctPL711</text><text transform="translate(129.75,365.6) rotate(-90)">MF001358_Enterococcus_phage_EF1</text><text transform="translate(140.25,365.6) rotate(-90)">BK027466_ctoEc19</text><text transform="translate(150.75,365.6) rotate(-90)">MH552526_ctfj46</text><text transform="translate(161.25,365.6) rotate(-90)">BK016678_ctJ0m5</text><text transform="translate(171.75,365.6) rotate(-90)">BK032759_ctxMM9</text><text transform="translate(182.25,365.6) rotate(-90)">BK048856_ctOa11</text><text transform="translate(192.75,365.6) rotate(-90)">BK051641_ctUes22</text><text transform="translate(203.25,365.6) rotate(-90)">OQ326496_Enterocloster_phage_PMBT10</text><text transform="translate(213.75,365.6) rotate(-90)">NC_055907_Enterococcus_phage_9183</text><text transform="translate(224.25,365.6) rotate(-90)">NC_055833_Enterococcus_phage_nattely</text><text transform="translate(234.75,365.6) rotate(-90)">NC_055834_Enterococcus_phage_vipetofem</text><text transform="translate(245.25,365.6) rotate(-90)">NC_047897_Lactobacillus_phage_Lenus</text><text transform="translate(255.75,365.6) rotate(-90)">NC_047739_Lactobacillus_phage_ATCC_8014–B2</text><text transform="translate(266.25,365.6) rotate(-90)">NC_047764_Lactobacillus_phage_P1</text><text transform="translate(276.75,365.6) rotate(-90)">NC_047918_Lactobacillus_phage_Satyr</text><text transform="translate(287.25,365.6) rotate(-90)">NC_047931_Lactobacillus_phage_Maenad</text></g>
<g stroke="#222" stroke-width="0.85" fill="none"><path d="M406.30,291.50 H408.70 Q409.90,291.50 409.90,292.70 V305.90 Q409.90,307.10 408.70,307.10 H406.30 M409.90,299.20 H416.10"/><path d="M468.30,278.20 H471.10 Q472.30,278.20 472.30,279.40 V306.00 Q472.30,307.20 471.10,307.20 H468.30 M472.30,292.40 H478.30"/><path d="M409.00,333.40 H412.60 Q413.80,333.40 413.80,334.60 V357.90 Q413.80,359.10 412.60,359.10 H409.00 M413.80,346.00 H420.40"/><path d="M464.70,314.90 H470.50 Q471.70,314.90 471.70,316.10 V357.90 Q471.70,359.10 470.50,359.10 H464.70 M471.70,336.00 H480.20"/></g>
<g font-size="7.7" fill="#111" stroke="#111" stroke-width="0.15"><text x="413.8" y="285.7" font-style="italic">Denvervirus</text><text x="416.7" y="301.7" font-style="italic">Vipetofemvirus</text><text x="422.5" y="346.9" font-style="italic">Maenadvirus</text><text x="485.1" y="292.4">Andrewesvirinae</text><text x="485.4" y="337.5">Tybeckvirinae</text></g>
</svg>
</body></html>
